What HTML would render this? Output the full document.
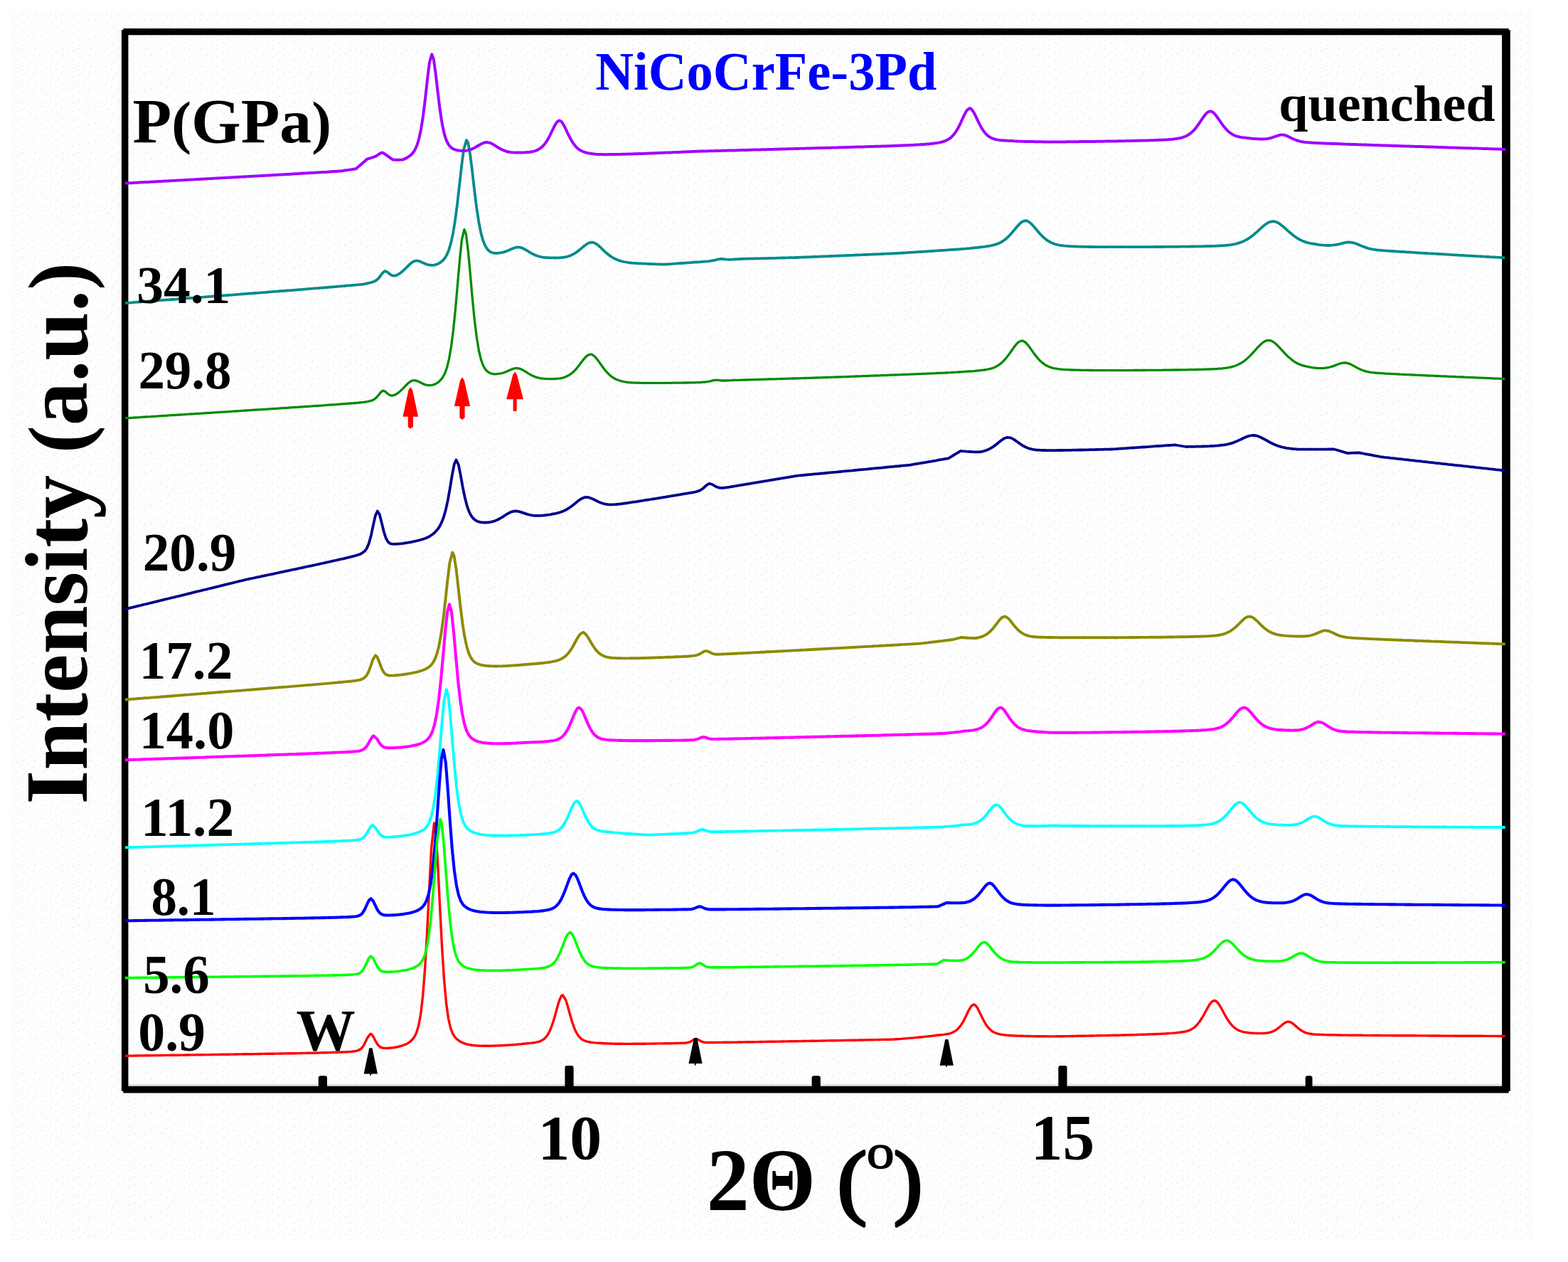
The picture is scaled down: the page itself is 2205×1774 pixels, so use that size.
<!DOCTYPE html>
<html lang="en"><head><meta charset="utf-8"><title>NiCoCrFe-3Pd XRD under pressure</title>
<style>
html,body{margin:0;padding:0;background:#fff;}
body{width:2205px;height:1774px;overflow:hidden;}
svg{display:block;}
text{font-family:"Liberation Serif","DejaVu Serif",serif;font-weight:bold;fill:#000;}
</style></head><body>
<svg width="2205" height="1774" viewBox="0 0 2205 1774">
<rect x="0" y="0" width="2205" height="1774" fill="#ffffff"/>
<defs>
<pattern id="dither" x="15" y="14" width="39" height="24.4" patternUnits="userSpaceOnUse">
<rect width="39" height="24.4" fill="#fefefe"/>
<g fill="#fdeaea"><rect x="1.5" y="12.3" width="2.3" height="2.3"/><rect x="9.1" y="7.3" width="2.3" height="2.3"/><rect x="16.4" y="4.9" width="2.3" height="2.3"/><rect x="23.6" y="9.7" width="2.3" height="2.3"/><rect x="33.2" y="4.9" width="2.3" height="2.3"/><rect x="16.4" y="17.1" width="2.3" height="2.3"/><rect x="9.1" y="19.5" width="2.3" height="2.3"/><rect x="26" y="21.9" width="2.3" height="2.3"/><rect x="31" y="14.6" width="2.3" height="2.3"/></g>
<g fill="#f0fdfd"><rect x="4" y="4.9" width="2.3" height="2.3"/><rect x="11.5" y="2.4" width="2.3" height="2.3"/><rect x="16.4" y="0" width="2.3" height="2.3"/><rect x="23.6" y="2.4" width="2.3" height="2.3"/><rect x="28.6" y="0" width="2.3" height="2.3"/><rect x="36" y="2.4" width="2.3" height="2.3"/><rect x="6.6" y="12.3" width="2.3" height="2.3"/><rect x="14" y="9.7" width="2.3" height="2.3"/><rect x="19" y="14.6" width="2.3" height="2.3"/><rect x="28.6" y="7.3" width="2.3" height="2.3"/><rect x="33.2" y="12.3" width="2.3" height="2.3"/><rect x="36" y="17.1" width="2.3" height="2.3"/><rect x="4" y="19.5" width="2.3" height="2.3"/><rect x="21.4" y="19.5" width="2.3" height="2.3"/><rect x="11.5" y="14.6" width="2.3" height="2.3"/><rect x="31" y="19.5" width="2.3" height="2.3"/></g>
</pattern>
</defs>
<rect x="15" y="14" width="2139" height="1730" fill="url(#dither)"/>
<rect x="180.4" y="1523.8" width="1931.7" height="3.2" fill="#e4e4dc"/>

<g fill="#000">
<rect x="173.4" y="40" width="1948.2" height="9.3"/>
<rect x="173.4" y="1526.8" width="1948.2" height="9.7"/>
<rect x="170.9" y="42.2" width="9.5" height="1491.6"/>
<rect x="2112.1" y="42.2" width="11.7" height="1491.6"/>
</g>
<g fill="none" stroke-linejoin="round" stroke-linecap="butt">
<path d="M175.8,426.0 178.2,425.8 181.2,425.6 184.2,425.4 187.2,425.1 190.2,424.9 193.2,424.7 196.2,424.5 199.2,424.2 202.2,424.0 205.2,423.8 208.2,423.5 211.2,423.3 214.2,423.1 217.2,422.9 220.2,422.6 223.2,422.4 226.2,422.2 229.2,421.9 232.2,421.7 235.2,421.5 238.2,421.3 241.2,421.0 244.2,420.8 247.2,420.6 250.2,420.3 253.2,420.1 256.2,419.9 259.2,419.6 262.2,419.4 265.2,419.2 268.2,419.0 271.2,418.7 274.2,418.5 277.2,418.3 280.2,418.0 283.2,417.8 286.2,417.6 289.2,417.3 292.2,417.1 295.2,416.9 298.2,416.7 301.2,416.4 304.2,416.2 307.2,416.0 310.2,415.7 313.2,415.5 316.2,415.3 319.2,415.0 322.2,414.8 325.2,414.6 328.2,414.4 331.2,414.1 334.2,413.9 337.2,413.7 340.2,413.4 343.2,413.2 346.2,413.0 349.2,412.7 352.2,412.5 355.2,412.3 358.2,412.0 361.2,411.8 364.2,411.6 367.2,411.3 370.2,411.1 373.2,410.9 376.2,410.6 379.2,410.4 382.2,410.2 385.2,409.9 388.2,409.7 391.2,409.5 394.2,409.2 397.2,409.0 400.2,408.8 403.2,408.5 406.2,408.3 409.2,408.1 412.2,407.8 415.2,407.6 418.2,407.3 421.2,407.1 424.2,406.9 427.2,406.6 430.2,406.4 433.2,406.2 436.2,405.9 439.2,405.7 442.2,405.4 445.2,405.2 448.2,405.0 451.2,404.7 454.2,404.5 457.2,404.2 460.2,404.0 463.2,403.7 466.2,403.5 469.2,403.2 472.2,403.0 475.2,402.7 478.2,402.5 481.2,402.2 484.2,402.0 487.2,401.7 490.2,401.4 493.2,401.2 496.2,400.9 499.2,400.6 502.2,400.3 505.2,400.1 508.2,399.8 511.2,399.5 514.2,398.9 517.2,398.2 520.2,397.5 523.2,396.7 526.2,395.7 529.2,394.0 532.2,391.3 535.2,387.5 538.2,383.4 541.2,381.1 544.2,382.0 547.2,384.5 550.2,386.8 553.2,387.7 556.2,387.4 559.2,386.2 562.2,384.4 565.2,382.1 568.2,379.4 571.2,376.5 574.2,373.4 577.2,370.6 580.2,368.3 583.5,366.8 586.2,366.5 589.2,367.0 592.2,368.2 595.2,369.6 598.2,370.9 601.2,372.0 603.5,372.5 607.2,372.8 610.2,372.6 613.2,371.9 616.2,370.7 619.2,369.0 622.2,366.6 625.2,363.3 628.2,358.4 631.2,351.4 634.2,341.3 637.2,327.3 640.2,308.7 643.2,285.7 646.2,259.3 649.2,232.4 652.2,209.7 656.0,197.0 658.2,200.8 661.2,217.4 664.2,241.7 667.2,267.8 670.2,291.8 673.2,311.6 676.2,326.9 679.2,337.9 682.2,345.3 685.2,350.1 688.2,353.1 691.2,354.8 694.2,355.7 697.2,356.0 700.2,355.8 703.2,355.3 706.2,354.9 709.2,354.2 712.2,353.1 715.2,351.9 718.2,350.5 721.2,349.2 724.2,348.2 727.2,347.5 729.6,347.5 733.2,348.2 736.2,349.5 739.2,351.1 742.2,352.9 745.2,354.8 748.2,356.5 751.2,358.0 754.2,359.3 757.2,360.3 760.2,361.0 763.2,361.6 766.2,362.0 769.2,362.2 772.2,362.4 775.2,362.4 778.0,362.4 781.2,362.5 784.2,362.4 787.2,362.3 790.2,362.0 793.2,361.6 796.2,361.1 799.2,360.2 802.2,359.2 805.2,357.8 808.2,356.1 811.2,354.1 814.2,351.9 817.2,349.4 820.2,346.9 823.2,344.5 826.2,342.5 829.2,341.1 832.7,340.6 835.2,341.1 838.2,342.6 841.2,344.8 844.2,347.5 847.2,350.4 850.2,353.3 853.2,356.0 856.2,358.4 859.2,360.6 862.2,362.5 865.2,364.0 868.2,365.3 871.2,366.4 874.2,367.3 877.2,368.0 880.2,368.5 883.2,369.0 885.0,369.3 886.2,369.4 889.2,369.7 892.2,369.9 895.2,370.1 898.2,370.3 901.2,370.4 904.2,370.6 907.2,370.7 910.2,370.9 913.2,371.0 916.2,371.1 919.2,371.2 922.2,371.3 925.2,371.4 928.2,371.5 931.2,371.6 933.6,371.7 937.2,371.5 940.2,371.3 943.2,371.1 946.2,370.9 949.2,370.7 952.2,370.4 955.2,370.2 958.2,370.0 961.2,369.8 964.2,369.6 967.2,369.4 970.2,369.2 973.2,368.9 976.2,368.7 979.2,368.5 982.2,368.3 985.2,368.1 988.2,367.8 991.2,367.6 994.2,367.4 997.2,367.1 1000.2,366.7 1003.2,366.2 1006.2,365.5 1009.2,364.7 1013.0,364.0 1015.2,364.0 1018.2,364.3 1021.2,364.6 1024.2,364.8 1027.2,364.8 1030.2,364.7 1033.2,364.5 1036.2,364.3 1039.2,364.1 1042.2,364.0 1045.2,363.9 1048.2,363.8 1051.2,363.7 1054.2,363.7 1057.2,363.6 1060.2,363.5 1063.2,363.4 1066.2,363.4 1069.2,363.3 1072.2,363.2 1075.2,363.1 1078.2,363.1 1081.2,363.0 1084.2,362.9 1087.2,362.8 1090.2,362.8 1093.2,362.7 1096.2,362.6 1099.2,362.5 1102.2,362.5 1105.2,362.4 1108.2,362.3 1111.2,362.2 1114.2,362.2 1117.2,362.1 1120.0,362.0 1123.2,361.9 1126.2,361.7 1129.2,361.6 1132.2,361.5 1135.2,361.4 1138.2,361.3 1141.2,361.1 1144.2,361.0 1147.2,360.9 1150.2,360.8 1153.2,360.6 1156.2,360.5 1159.2,360.4 1162.2,360.3 1165.2,360.1 1168.2,360.0 1171.2,359.9 1174.2,359.8 1177.2,359.6 1180.2,359.5 1183.2,359.4 1186.2,359.3 1189.2,359.1 1192.2,359.0 1195.2,358.9 1198.2,358.8 1201.2,358.6 1204.2,358.5 1207.2,358.4 1210.2,358.3 1213.2,358.1 1216.2,358.0 1219.2,357.9 1222.2,357.8 1225.2,357.6 1228.2,357.5 1231.2,357.4 1234.2,357.3 1237.2,357.1 1240.2,357.0 1243.2,356.9 1246.2,356.7 1249.2,356.6 1252.2,356.5 1255.2,356.4 1258.2,356.2 1261.2,356.0 1264.2,355.9 1267.2,355.7 1270.2,355.5 1273.2,355.3 1276.2,355.1 1279.2,354.9 1282.2,354.7 1285.2,354.6 1288.2,354.4 1291.2,354.2 1294.2,354.0 1297.2,353.8 1300.2,353.6 1303.2,353.4 1306.2,353.2 1309.2,353.0 1312.2,352.8 1315.2,352.6 1318.2,352.4 1321.2,352.2 1324.2,352.0 1327.2,351.8 1330.2,351.6 1333.2,351.4 1336.2,351.2 1339.2,351.0 1342.2,350.8 1345.2,350.5 1348.2,350.3 1351.2,350.1 1354.2,349.8 1357.2,349.6 1360.2,349.3 1363.2,349.1 1366.2,348.8 1369.2,348.5 1372.2,348.2 1375.2,347.9 1378.2,347.5 1381.2,347.2 1384.2,346.8 1387.2,346.3 1390.0,345.8 1393.2,345.3 1396.2,344.7 1399.2,343.9 1402.2,342.9 1405.2,341.7 1408.2,340.2 1411.2,338.3 1414.2,336.0 1417.2,333.3 1420.2,330.3 1423.2,327.0 1426.2,323.4 1429.2,319.8 1432.2,316.4 1435.2,313.4 1438.2,311.3 1442.0,310.2 1444.2,310.5 1447.2,312.1 1450.2,314.6 1453.2,317.8 1456.2,321.3 1459.2,324.9 1462.2,328.3 1465.2,331.5 1468.2,334.3 1471.2,336.8 1474.2,338.8 1477.2,340.5 1480.2,341.9 1483.2,343.0 1486.2,343.8 1489.2,344.5 1492.2,345.0 1495.2,345.4 1498.2,345.7 1499.6,345.8 1501.2,345.9 1504.2,346.1 1507.2,346.3 1510.2,346.4 1513.2,346.5 1516.2,346.6 1519.2,346.7 1522.2,346.8 1525.2,346.9 1528.2,346.9 1531.2,347.0 1534.2,347.0 1537.2,347.0 1540.2,347.1 1543.2,347.1 1546.2,347.1 1549.2,347.1 1552.2,347.2 1555.2,347.2 1558.2,347.2 1561.2,347.2 1564.2,347.2 1567.2,347.2 1570.2,347.2 1573.2,347.2 1576.2,347.2 1579.2,347.2 1582.2,347.2 1585.2,347.2 1588.2,347.2 1591.2,347.2 1594.2,347.2 1597.2,347.2 1600.2,347.2 1603.2,347.1 1606.2,347.1 1609.2,347.1 1612.2,347.1 1615.2,347.1 1618.2,347.1 1621.2,347.1 1624.2,347.0 1627.2,347.0 1630.2,347.0 1633.2,347.0 1636.2,347.0 1639.2,346.9 1642.2,346.9 1645.2,346.9 1648.2,346.8 1651.2,346.8 1654.2,346.8 1657.2,346.8 1660.2,346.7 1663.2,346.7 1666.2,346.6 1669.2,346.6 1672.2,346.6 1675.2,346.5 1678.2,346.5 1681.2,346.4 1684.2,346.4 1687.2,346.3 1690.2,346.3 1693.2,346.2 1696.2,346.1 1699.2,346.0 1702.2,346.0 1705.2,345.9 1707.0,345.8 1708.2,345.8 1711.2,345.6 1714.2,345.5 1717.2,345.3 1720.2,345.1 1723.2,344.9 1726.2,344.6 1729.2,344.3 1732.2,343.9 1735.2,343.3 1738.2,342.7 1741.2,341.9 1744.2,340.9 1747.2,339.8 1750.2,338.4 1753.2,336.8 1756.2,334.9 1759.2,332.9 1762.2,330.5 1765.2,328.0 1768.2,325.4 1771.2,322.6 1774.2,319.9 1777.2,317.3 1780.2,315.0 1783.2,313.1 1786.2,311.8 1790.0,311.2 1792.2,311.4 1795.2,312.3 1798.2,313.8 1801.2,315.9 1804.2,318.3 1807.2,320.9 1810.2,323.6 1813.2,326.3 1816.2,328.8 1819.2,331.2 1822.2,333.4 1825.2,335.3 1828.2,337.0 1831.2,338.4 1834.2,339.6 1837.2,340.6 1840.2,341.5 1843.2,342.1 1846.2,342.6 1848.8,343.0 1852.2,343.6 1855.2,344.1 1858.2,344.4 1861.2,344.7 1864.2,344.9 1867.2,345.0 1870.2,344.9 1873.2,344.7 1876.2,344.4 1879.2,343.9 1882.2,343.3 1885.2,342.6 1888.2,341.8 1891.2,341.2 1894.2,340.7 1897.2,340.5 1899.0,340.6 1903.2,341.3 1906.2,342.3 1909.2,343.4 1912.2,344.7 1915.2,345.9 1918.2,347.1 1921.2,348.1 1924.2,349.1 1927.2,349.8 1930.2,350.4 1933.2,350.9 1936.2,351.3 1939.2,351.6 1942.2,351.9 1945.2,352.2 1948.2,352.4 1951.2,352.6 1954.2,352.8 1957.2,353.0 1960.2,353.2 1963.2,353.4 1966.2,353.6 1969.2,353.8 1972.2,354.0 1975.2,354.2 1978.2,354.4 1981.2,354.5 1984.2,354.7 1987.2,354.9 1990.2,355.1 1993.2,355.3 1996.2,355.5 1999.2,355.6 2002.2,355.8 2005.2,356.0 2008.2,356.2 2011.2,356.3 2014.2,356.5 2017.2,356.7 2020.2,356.9 2023.2,357.0 2026.2,357.2 2029.2,357.4 2032.2,357.6 2035.2,357.7 2038.2,357.9 2041.2,358.1 2044.2,358.3 2047.2,358.4 2050.2,358.6 2053.2,358.8 2056.2,358.9 2059.2,359.1 2062.2,359.3 2065.2,359.5 2068.2,359.6 2071.2,359.8 2074.2,360.0 2077.2,360.1 2080.2,360.3 2083.2,360.5 2086.2,360.7 2089.2,360.8 2092.2,361.0 2095.2,361.2 2098.2,361.3 2101.2,361.5 2104.2,361.7 2107.2,361.9 2110.2,362.0 2113.2,362.2 2116.2,362.4" stroke="#008b8b" stroke-width="3.8"/>
<path d="M175.8,587.9 178.4,587.7 181.4,587.6 184.4,587.4 187.4,587.2 190.4,587.0 193.4,586.8 196.4,586.6 199.4,586.4 202.4,586.2 205.4,586.0 208.4,585.8 211.4,585.7 214.4,585.5 217.4,585.3 220.4,585.1 223.4,584.9 226.4,584.7 229.4,584.5 232.4,584.3 235.4,584.1 238.4,583.9 241.4,583.7 244.4,583.6 247.4,583.4 250.4,583.2 253.4,583.0 256.4,582.8 259.4,582.6 262.4,582.4 265.4,582.2 268.4,582.0 271.4,581.8 274.4,581.6 277.4,581.4 280.4,581.3 283.4,581.1 286.4,580.9 289.4,580.7 292.4,580.5 295.4,580.3 298.4,580.1 301.4,579.9 304.4,579.7 307.4,579.5 310.4,579.3 313.4,579.1 316.4,579.0 319.4,578.8 322.4,578.6 325.4,578.4 328.4,578.2 331.4,578.0 334.4,577.8 337.4,577.6 340.4,577.4 343.4,577.2 346.4,577.0 349.4,576.8 352.4,576.6 355.4,576.4 358.4,576.2 361.4,576.0 364.4,575.9 367.4,575.7 370.4,575.5 373.4,575.3 376.4,575.1 379.4,574.9 382.4,574.7 385.4,574.5 388.4,574.3 391.4,574.1 394.4,573.9 397.4,573.7 400.4,573.5 403.4,573.3 406.4,573.1 409.4,572.9 412.4,572.7 415.4,572.5 418.4,572.3 421.4,572.1 424.4,571.9 427.4,571.7 430.4,571.5 433.4,571.3 436.4,571.1 439.4,570.9 442.4,570.7 445.4,570.5 448.4,570.3 451.4,570.1 454.4,569.9 457.4,569.6 460.4,569.4 463.4,569.2 466.4,569.0 469.4,568.8 472.4,568.6 475.4,568.4 478.4,568.1 481.4,567.9 484.4,567.7 487.4,567.5 490.4,567.2 493.4,567.0 496.4,566.8 499.4,566.5 502.4,566.3 505.4,566.0 508.4,565.7 511.4,565.4 514.4,565.0 517.4,564.4 520.4,563.7 523.4,562.8 526.4,561.3 529.4,558.8 532.4,555.2 535.4,551.3 538.4,549.2 541.4,550.1 544.4,552.8 547.4,555.0 550.4,556.1 552.5,556.0 556.4,554.5 559.4,552.6 562.4,550.2 565.4,547.4 568.4,544.3 571.4,541.2 574.4,538.3 577.4,536.1 580.3,534.8 583.4,534.6 586.4,535.4 589.4,536.7 592.4,538.3 595.4,539.7 598.4,540.9 600.5,541.4 604.4,541.7 607.4,541.4 610.4,540.6 613.4,539.2 616.4,537.3 619.4,534.6 622.4,530.8 625.4,525.3 628.4,517.1 631.4,505.1 634.4,487.9 637.4,464.6 640.4,435.2 643.4,401.1 646.4,366.1 649.4,337.1 652.9,322.6 655.4,329.4 658.4,353.4 661.4,386.3 664.4,420.3 667.4,450.4 670.4,474.7 673.4,492.8 676.4,505.4 679.4,513.7 682.4,519.0 685.4,522.2 688.4,524.2 691.4,525.2 694.4,525.8 697.4,525.8 700.4,525.4 703.4,525.1 706.4,524.5 709.4,523.5 712.4,522.3 715.4,521.0 718.4,519.6 721.4,518.5 724.4,517.7 727.5,517.6 730.4,518.1 733.4,519.3 736.4,520.9 739.4,522.7 742.4,524.6 745.4,526.4 748.4,528.0 751.4,529.3 754.4,530.4 757.4,531.2 760.4,531.8 763.4,532.2 766.4,532.4 769.4,532.6 772.4,532.6 775.4,532.6 778.4,532.6 781.4,532.5 784.4,532.2 787.4,531.8 790.4,531.3 793.4,530.5 796.4,529.3 799.4,527.8 802.4,525.9 805.4,523.5 808.4,520.6 811.4,517.3 814.4,513.5 817.4,509.5 820.4,505.6 823.4,502.1 826.4,499.4 830.6,498.0 832.4,498.4 835.4,500.3 838.4,503.4 841.4,507.3 844.4,511.5 847.4,515.7 850.4,519.7 853.4,523.2 856.4,526.3 859.4,528.9 862.4,531.0 865.4,532.7 868.4,534.0 871.4,535.0 874.4,535.9 877.4,536.5 880.4,537.1 883.4,537.5 885.0,537.7 886.4,537.8 889.4,537.9 892.4,538.1 895.4,538.2 898.4,538.2 901.4,538.3 904.4,538.3 907.4,538.4 910.4,538.4 913.4,538.4 916.4,538.4 919.4,538.4 922.4,538.4 925.4,538.4 928.4,538.4 931.4,538.4 934.4,538.4 937.4,538.3 940.4,538.3 943.4,538.3 946.4,538.2 949.4,538.2 952.4,538.2 955.4,538.1 958.4,538.1 961.4,538.0 964.4,538.0 967.4,538.0 970.4,537.9 973.4,537.9 976.4,537.8 979.4,537.7 982.0,537.7 985.4,537.5 988.4,537.2 991.4,537.0 994.4,536.6 997.4,536.1 1000.4,535.4 1003.4,534.7 1006.0,534.3 1009.4,534.4 1012.4,534.7 1015.4,535.0 1018.4,535.0 1021.4,535.0 1024.4,534.8 1027.4,534.7 1030.0,534.5 1033.4,534.4 1036.4,534.3 1039.4,534.3 1042.4,534.2 1045.4,534.1 1048.4,534.0 1051.4,533.9 1054.4,533.8 1057.4,533.7 1060.4,533.7 1063.4,533.6 1066.4,533.5 1069.4,533.4 1072.4,533.3 1075.4,533.2 1078.4,533.1 1081.4,533.0 1084.4,532.9 1087.4,532.9 1090.4,532.8 1093.4,532.7 1096.4,532.6 1099.4,532.5 1102.4,532.4 1105.4,532.3 1108.4,532.2 1111.4,532.1 1114.4,532.0 1117.4,532.0 1120.4,531.9 1123.4,531.8 1126.4,531.7 1129.4,531.6 1132.4,531.5 1135.4,531.4 1138.4,531.3 1141.4,531.2 1144.4,531.1 1147.4,531.0 1150.4,530.9 1153.4,530.8 1155.0,530.8 1156.4,530.7 1159.4,530.6 1162.4,530.5 1165.4,530.4 1168.4,530.3 1171.4,530.2 1174.4,530.1 1177.4,530.0 1180.4,529.9 1183.4,529.8 1186.4,529.7 1189.4,529.6 1192.4,529.5 1195.4,529.3 1198.4,529.2 1201.4,529.1 1204.4,529.0 1207.4,528.9 1210.4,528.8 1213.4,528.7 1216.4,528.6 1219.4,528.5 1222.4,528.4 1225.4,528.2 1228.4,528.1 1231.4,528.0 1234.4,527.9 1237.4,527.8 1240.4,527.7 1243.4,527.6 1246.4,527.5 1249.4,527.3 1252.4,527.2 1255.4,527.1 1258.4,527.0 1261.4,526.9 1264.4,526.8 1267.4,526.6 1270.4,526.5 1273.4,526.4 1276.4,526.3 1279.4,526.2 1282.4,526.1 1285.4,525.9 1288.4,525.8 1291.4,525.7 1294.4,525.6 1297.4,525.4 1300.4,525.3 1303.4,525.2 1306.4,525.1 1309.4,524.9 1312.4,524.8 1315.4,524.7 1318.4,524.5 1321.4,524.4 1324.4,524.3 1327.4,524.1 1330.4,524.0 1333.4,523.8 1336.4,523.7 1339.4,523.5 1342.4,523.3 1345.4,523.2 1348.4,523.0 1351.4,522.8 1354.4,522.6 1357.4,522.4 1360.4,522.2 1363.4,522.0 1366.4,521.8 1369.4,521.6 1372.4,521.3 1375.4,521.0 1378.4,520.7 1379.7,520.5 1381.4,520.3 1384.4,520.0 1387.4,519.5 1390.4,518.9 1393.4,518.2 1396.4,517.2 1399.4,516.0 1402.4,514.4 1405.4,512.5 1408.4,510.1 1411.4,507.2 1414.4,503.9 1417.4,500.1 1420.4,496.0 1423.4,491.7 1426.4,487.4 1429.4,483.7 1432.4,480.8 1436.8,479.0 1438.4,479.2 1441.4,480.8 1444.4,483.7 1447.4,487.5 1450.4,491.6 1453.4,495.9 1456.4,499.9 1459.4,503.6 1462.4,506.9 1465.4,509.6 1468.4,511.9 1471.4,513.8 1474.4,515.3 1477.4,516.4 1480.4,517.3 1483.4,517.9 1486.4,518.4 1489.4,518.8 1492.4,519.1 1495.4,519.4 1498.4,519.6 1501.4,519.7 1504.4,519.9 1507.4,520.0 1510.4,520.1 1513.4,520.2 1516.4,520.2 1519.4,520.3 1522.4,520.4 1525.4,520.4 1528.4,520.4 1531.4,520.5 1534.4,520.5 1537.4,520.5 1540.4,520.6 1543.4,520.6 1546.4,520.6 1549.4,520.6 1552.4,520.6 1555.4,520.6 1558.4,520.6 1561.4,520.6 1564.4,520.6 1567.4,520.6 1570.4,520.6 1573.4,520.6 1576.4,520.6 1579.4,520.6 1582.4,520.6 1585.4,520.6 1588.4,520.6 1591.4,520.6 1594.4,520.5 1597.4,520.5 1600.4,520.5 1603.4,520.5 1606.4,520.5 1609.4,520.5 1612.4,520.4 1615.4,520.4 1618.4,520.4 1621.4,520.4 1624.4,520.3 1627.4,520.3 1630.4,520.3 1633.4,520.3 1636.4,520.2 1639.4,520.2 1642.4,520.2 1645.4,520.1 1648.4,520.1 1651.4,520.0 1654.4,520.0 1657.4,520.0 1660.4,519.9 1663.4,519.9 1666.4,519.8 1669.4,519.8 1672.4,519.7 1675.4,519.7 1678.4,519.6 1681.4,519.5 1684.4,519.5 1687.4,519.4 1690.4,519.3 1693.4,519.2 1696.4,519.1 1699.4,519.0 1702.4,518.9 1705.4,518.8 1707.0,518.7 1708.4,518.6 1711.4,518.5 1714.4,518.2 1717.4,518.0 1720.4,517.7 1723.4,517.3 1726.4,516.9 1729.4,516.3 1732.4,515.6 1735.4,514.8 1738.4,513.7 1741.4,512.4 1744.4,510.8 1747.4,509.0 1750.4,506.8 1753.4,504.4 1756.4,501.6 1759.4,498.6 1762.4,495.4 1765.4,492.1 1768.4,488.7 1771.4,485.6 1774.4,482.8 1777.4,480.5 1780.4,478.9 1783.8,478.3 1786.4,478.6 1789.4,479.9 1792.4,481.9 1795.4,484.6 1798.4,487.6 1801.4,490.9 1804.4,494.1 1807.4,497.3 1810.4,500.4 1813.4,503.1 1816.4,505.6 1819.4,507.8 1822.4,509.7 1825.4,511.2 1828.4,512.5 1831.4,513.6 1834.4,514.4 1837.4,515.1 1840.4,515.7 1843.4,516.3 1846.4,516.8 1849.4,517.2 1852.4,517.5 1855.4,517.6 1858.4,517.6 1861.4,517.5 1864.4,517.2 1867.4,516.7 1870.4,516.0 1873.4,515.1 1876.4,514.1 1879.4,512.9 1882.4,511.8 1885.4,510.8 1888.4,510.1 1892.0,510.0 1894.4,510.4 1897.4,511.3 1900.4,512.6 1903.4,514.2 1906.4,515.9 1909.4,517.5 1912.4,518.9 1915.4,520.2 1918.4,521.3 1921.4,522.2 1924.4,522.8 1927.4,523.3 1930.4,523.7 1933.4,524.0 1936.4,524.3 1939.4,524.5 1942.4,524.7 1945.4,524.9 1948.4,525.1 1951.4,525.3 1954.4,525.4 1957.4,525.6 1960.4,525.7 1963.4,525.9 1966.4,526.0 1969.4,526.2 1972.4,526.3 1975.4,526.5 1978.4,526.6 1981.4,526.7 1984.4,526.9 1987.4,527.0 1990.4,527.2 1993.4,527.3 1996.4,527.4 1999.4,527.6 2002.4,527.7 2005.4,527.8 2008.4,528.0 2011.4,528.1 2014.4,528.2 2017.4,528.4 2020.4,528.5 2023.4,528.6 2026.4,528.8 2029.4,528.9 2032.4,529.0 2035.4,529.1 2038.4,529.3 2041.4,529.4 2044.4,529.5 2047.4,529.7 2050.4,529.8 2053.4,529.9 2056.4,530.0 2059.4,530.2 2062.4,530.3 2065.4,530.4 2068.4,530.6 2071.4,530.7 2074.4,530.8 2077.4,530.9 2080.4,531.1 2083.4,531.2 2086.4,531.3 2089.4,531.4 2092.4,531.6 2095.4,531.7 2098.4,531.8 2101.4,532.0 2104.4,532.1 2107.4,532.2 2110.4,532.3 2113.4,532.5 2116.4,532.6" stroke="#008b00" stroke-width="3.3"/>
<path d="M175.8,856.3 179.8,855.4 182.8,854.6 185.8,853.9 188.8,853.2 191.8,852.4 194.8,851.7 197.8,851.0 200.8,850.2 203.8,849.5 206.8,848.8 209.8,848.0 212.8,847.3 215.8,846.6 218.8,845.9 221.8,845.1 224.8,844.4 227.8,843.7 230.8,842.9 233.8,842.2 236.8,841.5 239.8,840.7 242.8,840.0 245.8,839.3 248.8,838.5 251.8,837.8 254.8,837.1 257.8,836.3 260.8,835.6 263.8,834.9 266.8,834.1 269.8,833.4 272.8,832.7 275.8,831.9 278.8,831.2 281.8,830.5 284.8,829.7 287.8,829.0 290.8,828.3 293.8,827.5 296.8,826.8 299.8,826.1 302.8,825.3 305.8,824.6 308.8,823.9 311.8,823.1 314.8,822.4 317.8,821.7 320.8,820.9 323.8,820.2 326.8,819.5 329.8,818.7 332.8,818.0 335.8,817.2 338.8,816.5 341.8,815.8 344.8,815.0 347.8,814.4 350.8,813.7 353.8,813.1 356.8,812.5 359.8,811.8 362.8,811.2 365.8,810.6 368.8,809.9 371.8,809.3 374.8,808.7 377.8,808.0 380.8,807.4 383.8,806.8 386.8,806.1 389.8,805.5 392.8,804.9 395.8,804.2 398.8,803.6 401.8,802.9 404.8,802.3 407.8,801.7 410.8,801.0 413.8,800.4 416.8,799.8 419.8,799.1 422.8,798.5 425.8,797.8 428.8,797.2 431.8,796.5 434.8,795.9 437.8,795.3 440.8,794.6 443.8,794.0 446.8,793.3 449.8,792.7 452.8,792.0 455.8,791.4 458.8,790.7 461.8,790.0 464.8,789.4 467.8,788.7 470.8,788.0 473.8,787.4 476.8,786.7 479.8,786.0 482.8,785.3 485.8,784.6 488.8,783.9 491.8,783.1 494.8,782.4 497.8,781.6 500.8,780.8 503.8,779.9 506.8,778.7 509.8,777.1 512.8,774.8 515.8,770.8 518.8,763.8 521.8,752.8 524.8,738.7 527.8,725.1 530.8,718.6 533.8,723.3 536.8,735.1 539.8,747.5 542.8,756.7 545.8,761.9 548.8,764.1 551.5,764.6 554.8,764.9 557.8,764.7 560.8,764.5 563.8,764.2 566.8,763.8 569.8,763.3 572.8,762.9 575.8,762.3 578.8,761.8 581.8,761.2 584.8,760.5 587.8,759.8 590.8,759.0 593.8,758.1 596.8,757.2 599.8,756.1 601.7,755.3 605.8,752.8 608.8,750.7 611.8,748.1 614.8,744.8 617.8,740.6 620.8,734.9 623.8,727.2 626.8,716.8 629.8,703.1 632.8,686.3 635.8,667.9 638.8,652.5 641.5,646.6 644.8,653.3 647.8,668.3 650.8,685.1 653.8,699.8 656.8,711.3 659.8,719.6 662.8,725.3 665.8,729.1 668.8,731.5 671.8,733.0 674.8,733.9 677.8,734.4 680.8,734.5 683.8,734.5 686.8,734.3 689.8,733.9 692.8,733.2 695.8,732.2 698.8,731.0 701.8,729.5 704.8,727.8 707.8,726.0 710.8,724.0 713.8,722.2 716.8,720.6 719.8,719.3 722.7,718.6 725.8,718.4 728.8,718.8 731.8,719.6 734.8,720.6 737.8,721.6 740.8,722.6 743.8,723.5 746.8,724.2 749.8,724.6 752.8,724.9 755.8,724.9 757.3,724.9 758.8,724.9 761.8,724.7 764.8,724.5 767.8,724.1 770.8,723.7 773.8,723.3 776.8,722.7 779.8,722.2 782.8,721.5 785.8,720.7 788.8,719.7 791.8,718.6 794.8,717.2 797.8,715.6 800.8,713.7 803.8,711.5 806.8,709.2 809.8,706.7 812.8,704.3 815.8,702.1 818.8,700.4 823.0,699.0 824.8,698.9 827.8,699.2 830.8,700.2 833.8,701.5 836.8,703.0 839.8,704.5 842.8,705.9 845.8,707.1 848.8,708.0 851.8,708.7 854.8,709.1 857.6,709.3 860.8,709.3 863.8,709.2 866.8,709.0 869.8,708.6 872.8,708.3 875.8,707.9 878.8,707.5 881.8,707.1 884.8,706.6 887.8,706.2 890.8,705.7 893.8,705.3 896.8,704.8 899.8,704.3 902.8,703.9 905.8,703.4 908.8,702.9 911.8,702.5 914.8,702.0 917.8,701.5 920.8,701.1 923.8,700.6 926.8,700.1 929.8,699.6 932.8,699.1 935.8,698.7 938.8,698.2 941.8,697.7 944.8,697.2 947.8,696.7 950.8,696.2 953.8,695.7 956.8,695.2 959.8,694.7 962.8,694.2 965.8,693.7 968.8,693.2 971.8,692.7 974.8,692.1 977.8,691.5 980.8,690.7 983.8,689.6 986.8,687.9 989.8,685.5 992.8,682.7 995.8,680.5 997.6,679.9 1001.8,681.0 1004.8,682.9 1007.8,684.5 1010.8,685.5 1013.8,685.8 1016.6,685.8 1019.8,685.5 1022.8,685.0 1025.8,684.6 1028.8,684.1 1031.8,683.6 1034.8,683.2 1037.8,682.7 1040.8,682.2 1043.8,681.7 1046.8,681.2 1049.8,680.7 1052.8,680.2 1055.8,679.7 1058.8,679.2 1061.8,678.7 1064.8,678.2 1067.8,677.7 1070.8,677.2 1073.8,676.7 1076.8,676.2 1079.8,675.7 1082.8,675.1 1085.8,674.6 1088.8,674.1 1091.8,673.6 1094.8,673.1 1097.8,672.6 1100.8,672.1 1103.8,671.6 1106.8,671.1 1109.8,670.6 1112.8,670.1 1115.8,669.6 1118.8,669.1 1120.4,668.8 1121.8,668.7 1124.8,668.4 1127.8,668.1 1130.8,667.8 1133.8,667.5 1136.8,667.2 1139.8,667.0 1142.8,666.7 1145.8,666.4 1148.8,666.1 1151.8,665.8 1154.8,665.5 1157.8,665.3 1160.8,665.0 1163.8,664.7 1166.8,664.4 1169.8,664.1 1172.8,663.8 1175.8,663.6 1178.8,663.3 1181.8,663.0 1184.8,662.7 1187.8,662.4 1190.8,662.1 1193.8,661.8 1196.8,661.6 1199.8,661.3 1202.8,661.0 1205.8,660.7 1208.8,660.4 1211.8,660.1 1214.8,659.8 1217.8,659.6 1220.8,659.3 1223.8,659.0 1226.8,658.7 1229.8,658.4 1232.8,658.1 1235.8,657.8 1238.8,657.6 1241.8,657.3 1244.8,657.0 1247.8,656.7 1250.8,656.4 1253.8,656.1 1256.8,655.8 1259.8,655.5 1262.8,655.3 1265.8,655.0 1268.8,654.7 1271.8,654.4 1274.8,654.1 1277.8,653.8 1280.0,653.6 1283.8,652.9 1286.8,652.4 1289.8,651.9 1292.8,651.4 1295.8,650.9 1298.8,650.4 1301.8,649.9 1304.8,649.3 1307.8,648.8 1310.8,648.3 1313.8,647.8 1316.8,647.3 1319.8,646.7 1322.8,646.2 1325.8,645.7 1328.8,645.1 1331.8,644.6 1333.6,644.3 1334.8,643.6 1337.8,641.8 1340.8,640.0 1343.8,638.2 1346.8,636.4 1349.8,634.6 1351.0,633.9 1352.8,634.1 1355.8,634.3 1358.8,634.6 1361.8,634.8 1364.8,635.0 1367.8,635.2 1370.8,635.3 1373.8,635.4 1376.8,635.4 1379.8,635.0 1382.8,634.3 1385.8,633.4 1388.8,632.3 1391.8,630.9 1394.8,629.1 1397.8,627.1 1400.8,624.9 1403.8,622.5 1406.8,620.1 1409.8,617.8 1412.8,616.0 1415.8,615.0 1417.4,614.8 1421.8,615.6 1424.8,617.1 1427.8,619.1 1430.8,621.3 1433.8,623.4 1436.8,625.5 1439.8,627.3 1442.8,628.8 1445.8,630.0 1448.8,630.9 1451.8,631.6 1454.8,632.1 1457.8,632.5 1460.8,632.7 1463.8,632.9 1466.8,633.0 1469.8,633.0 1472.8,633.1 1475.8,633.1 1478.8,633.1 1481.8,633.1 1484.8,633.1 1487.8,633.0 1490.8,633.0 1493.8,633.0 1496.8,632.9 1499.8,632.9 1502.8,632.8 1505.8,632.8 1508.8,632.7 1511.8,632.7 1514.8,632.6 1517.8,632.5 1520.8,632.5 1523.8,632.4 1526.8,632.4 1529.8,632.3 1532.8,632.2 1535.8,632.2 1538.8,632.1 1541.8,632.0 1544.8,631.9 1547.8,631.9 1550.8,631.8 1553.8,631.7 1556.8,631.7 1559.8,631.6 1562.8,631.5 1565.8,631.4 1568.8,631.2 1571.8,631.0 1574.8,630.7 1577.8,630.5 1580.8,630.3 1583.8,630.1 1586.8,629.9 1589.8,629.7 1592.8,629.5 1595.5,629.3 1598.8,629.1 1601.8,628.9 1604.8,628.7 1607.8,628.5 1610.8,628.3 1613.8,628.1 1616.8,627.9 1619.8,627.6 1622.8,627.4 1625.8,627.2 1628.8,627.0 1631.8,626.8 1634.8,626.6 1637.8,626.4 1640.8,626.2 1643.8,626.0 1646.8,625.8 1649.8,625.6 1652.2,625.4 1655.8,626.0 1658.8,626.5 1661.8,627.0 1664.8,627.5 1667.8,628.0 1670.8,627.9 1673.8,627.9 1676.8,627.8 1679.8,627.8 1682.8,627.7 1685.8,627.6 1688.8,627.6 1691.8,627.5 1694.8,627.4 1697.8,627.3 1700.8,627.2 1703.8,627.0 1706.8,626.9 1709.8,626.6 1712.8,626.4 1715.8,626.0 1718.8,625.7 1721.8,625.4 1724.8,624.8 1727.8,624.2 1730.8,623.4 1733.8,622.4 1736.8,621.2 1739.8,620.0 1742.8,618.6 1745.8,617.2 1748.8,615.7 1751.8,614.4 1754.8,613.3 1757.8,612.5 1760.8,612.0 1763.0,612.0 1766.8,612.5 1769.8,613.4 1772.8,614.7 1775.8,616.2 1778.8,617.8 1781.8,619.5 1784.8,621.2 1787.8,622.7 1790.8,624.2 1793.8,625.5 1796.8,626.7 1799.8,627.6 1802.8,628.5 1805.8,629.2 1808.8,629.8 1811.8,630.2 1814.8,630.6 1817.8,631.0 1820.8,631.2 1823.8,631.5 1826.8,631.6 1829.8,631.6 1832.8,631.6 1835.8,631.6 1838.8,631.6 1841.8,631.6 1844.8,631.6 1847.8,631.6 1850.8,631.6 1853.8,631.6 1856.8,631.6 1859.8,631.6 1862.8,631.6 1865.8,631.6 1868.8,631.5 1871.8,631.5 1874.8,631.5 1876.2,631.5 1877.8,632.0 1880.8,632.8 1883.8,633.7 1886.8,634.6 1889.8,635.5 1892.8,636.4 1895.0,637.0 1898.8,636.9 1901.8,636.7 1904.8,636.6 1907.8,636.5 1910.8,636.4 1913.8,636.9 1916.8,637.5 1919.8,638.1 1922.8,638.6 1925.8,639.2 1928.8,639.7 1931.8,640.3 1934.8,640.9 1937.8,641.4 1940.8,642.0 1942.5,642.3 1943.8,642.4 1946.8,642.8 1949.8,643.1 1952.8,643.4 1955.8,643.8 1958.8,644.1 1961.8,644.4 1964.8,644.8 1967.8,645.1 1970.8,645.4 1973.8,645.8 1976.8,646.1 1979.8,646.4 1982.8,646.8 1985.8,647.1 1988.8,647.4 1991.8,647.8 1994.8,648.1 1997.8,648.4 2000.8,648.8 2003.8,649.1 2006.8,649.4 2009.8,649.8 2012.8,650.1 2015.8,650.4 2018.8,650.8 2021.8,651.1 2024.8,651.4 2027.8,651.8 2030.8,652.1 2033.8,652.4 2036.8,652.8 2039.8,653.1 2042.8,653.4 2045.8,653.8 2048.8,654.1 2051.8,654.4 2054.8,654.7 2057.8,655.1 2060.8,655.4 2063.8,655.7 2066.8,656.1 2069.8,656.4 2072.8,656.7 2075.8,657.1 2078.8,657.4 2081.8,657.7 2084.8,658.1 2087.8,658.4 2090.8,658.7 2093.8,659.1 2096.8,659.4 2099.8,659.7 2102.8,660.1 2105.8,660.4 2108.8,660.7 2111.8,661.0 2114.8,661.4 2116.8,661.6" stroke="#00008b" stroke-width="3.8"/>
<path d="M175.8,983.5 179.4,983.2 182.4,983.0 185.4,982.8 188.4,982.5 191.4,982.3 194.4,982.0 197.4,981.8 200.4,981.6 203.4,981.3 206.4,981.1 209.4,980.9 212.4,980.6 215.4,980.4 218.4,980.2 221.4,979.9 224.4,979.7 227.4,979.4 230.4,979.2 233.4,979.0 236.4,978.7 239.4,978.5 242.4,978.3 245.4,978.0 248.4,977.8 251.4,977.6 254.4,977.3 257.4,977.1 260.4,976.8 263.4,976.6 266.4,976.4 269.4,976.1 272.4,975.9 275.4,975.7 278.4,975.4 281.4,975.2 284.4,974.9 287.4,974.7 290.4,974.5 293.4,974.2 296.4,974.0 299.4,973.8 302.4,973.5 305.4,973.3 308.4,973.0 311.4,972.8 314.4,972.6 317.4,972.3 320.4,972.1 323.4,971.8 326.4,971.6 329.4,971.4 332.4,971.1 335.4,970.9 338.4,970.7 341.4,970.4 344.4,970.2 347.4,969.9 350.4,969.7 353.4,969.5 356.4,969.2 359.4,969.0 362.4,968.7 365.4,968.5 368.4,968.3 371.4,968.0 374.4,967.8 377.4,967.5 380.4,967.3 383.4,967.1 386.4,966.8 389.4,966.6 392.4,966.3 395.4,966.1 398.4,965.8 401.4,965.6 404.4,965.4 407.4,965.1 410.4,964.9 413.4,964.6 416.4,964.4 419.4,964.1 422.4,963.9 425.4,963.6 428.4,963.4 431.4,963.1 434.4,962.9 437.4,962.7 440.4,962.4 443.4,962.2 446.4,961.9 449.4,961.6 452.4,961.4 455.4,961.1 458.4,960.9 461.4,960.6 464.4,960.4 467.4,960.1 470.4,959.8 473.4,959.6 476.4,959.3 479.4,959.0 482.4,958.7 485.4,958.4 488.4,958.1 491.4,957.8 494.4,957.5 497.4,957.1 500.4,956.7 503.4,956.2 506.4,955.6 509.4,954.6 512.4,952.9 515.4,949.7 518.4,944.1 521.4,935.9 524.4,927.0 528.0,921.3 530.4,923.4 533.4,930.8 536.4,938.8 539.4,944.7 542.4,948.0 545.4,949.3 548.0,949.6 551.4,949.6 554.4,949.5 557.4,949.2 560.4,948.9 563.4,948.6 566.4,948.2 569.4,947.8 572.4,947.3 575.4,946.9 578.4,946.3 581.4,945.7 584.4,945.1 587.4,944.3 590.4,943.5 593.4,942.5 594.8,942.0 596.4,941.4 599.4,940.0 602.4,938.2 605.4,935.8 608.4,932.3 611.4,927.0 614.4,919.1 617.4,907.4 620.4,890.9 623.4,869.3 626.4,843.3 629.4,815.4 632.4,791.0 636.3,776.7 638.4,780.8 641.4,799.1 644.4,825.2 647.4,852.2 650.4,876.2 653.4,895.2 656.4,909.2 659.4,918.8 662.4,925.0 665.4,928.9 668.4,931.4 671.4,933.0 674.4,934.1 677.4,934.9 680.4,935.5 683.4,935.8 686.4,936.1 689.4,936.3 692.4,936.4 695.4,936.5 698.4,936.5 701.4,936.4 704.4,936.4 707.4,936.3 710.4,936.1 713.4,936.0 716.4,935.8 719.4,935.6 722.4,935.4 725.4,935.2 728.4,935.0 731.4,934.8 734.4,934.5 737.4,934.2 740.0,934.0 743.4,933.8 746.4,933.5 749.4,933.3 752.4,933.1 755.4,932.8 758.4,932.5 761.4,932.2 764.4,931.9 767.4,931.5 770.4,931.1 773.4,930.7 776.4,930.2 779.4,929.6 782.4,928.9 785.4,927.9 788.4,926.7 791.4,925.1 794.4,923.0 797.4,920.2 800.4,916.7 803.4,912.4 806.4,907.3 809.4,901.8 812.4,896.4 815.4,891.8 819.5,889.0 821.4,889.5 824.4,892.3 827.4,896.8 830.4,901.9 833.4,907.0 836.4,911.5 839.4,915.2 842.4,918.1 845.4,920.3 848.4,921.9 851.4,923.1 854.4,923.8 857.4,924.3 860.4,924.7 863.4,924.9 866.4,925.1 869.4,925.2 872.4,925.3 875.4,925.4 878.4,925.4 881.4,925.4 884.4,925.4 887.4,925.3 890.4,925.3 893.4,925.2 896.4,925.2 899.4,925.1 902.4,925.0 905.4,925.0 908.4,924.9 911.4,924.8 914.4,924.7 917.4,924.6 920.4,924.5 923.4,924.4 926.4,924.3 929.4,924.2 932.4,924.1 935.4,923.9 938.4,923.8 941.4,923.7 944.4,923.6 947.4,923.5 950.4,923.3 953.4,923.2 956.4,923.1 959.4,923.0 962.4,922.8 964.8,922.7 968.4,922.5 971.4,922.2 974.4,921.9 977.4,921.5 980.4,920.8 983.4,919.6 986.4,917.9 989.4,916.0 992.4,915.0 995.4,915.6 998.4,917.1 1001.4,918.5 1004.4,919.4 1007.4,919.7 1010.4,919.7 1013.4,919.6 1016.4,919.5 1019.4,919.4 1022.4,919.2 1025.4,919.1 1028.4,919.0 1031.4,918.8 1034.4,918.7 1037.4,918.5 1040.4,918.4 1043.4,918.2 1046.4,918.1 1049.4,917.9 1052.4,917.7 1055.4,917.6 1058.4,917.4 1061.4,917.3 1064.4,917.1 1067.4,917.0 1070.4,916.8 1073.4,916.7 1076.4,916.5 1079.4,916.3 1082.4,916.2 1085.4,916.0 1088.4,915.9 1091.4,915.7 1094.4,915.5 1097.4,915.4 1100.4,915.2 1103.4,915.1 1106.4,914.9 1109.4,914.8 1112.4,914.6 1115.4,914.4 1118.4,914.3 1121.4,914.1 1124.4,914.0 1127.4,913.8 1130.4,913.6 1133.4,913.5 1136.4,913.3 1139.4,913.2 1142.4,913.0 1145.4,912.8 1148.4,912.7 1151.4,912.5 1154.4,912.3 1157.4,912.2 1160.4,912.0 1163.4,911.9 1166.4,911.7 1169.4,911.5 1172.4,911.4 1175.4,911.2 1178.4,911.1 1181.4,910.9 1184.4,910.7 1187.4,910.6 1190.4,910.4 1193.4,910.2 1196.4,910.1 1199.4,909.9 1202.4,909.8 1205.4,909.6 1208.4,909.4 1211.4,909.3 1214.4,909.1 1217.4,908.9 1220.4,908.8 1223.4,908.6 1226.4,908.5 1229.4,908.3 1232.4,908.1 1235.4,908.0 1238.4,907.8 1241.4,907.6 1244.4,907.5 1247.4,907.3 1250.4,907.1 1253.4,907.0 1256.4,906.8 1259.4,906.6 1262.4,906.5 1265.4,906.3 1268.4,906.1 1271.4,905.9 1274.4,905.8 1277.4,905.6 1280.4,905.4 1283.4,905.3 1286.4,905.1 1289.4,904.9 1292.4,904.7 1295.4,904.4 1298.4,904.1 1301.4,903.7 1304.4,903.4 1307.4,903.0 1310.4,902.7 1313.4,902.3 1316.4,902.0 1319.4,901.6 1322.4,901.2 1325.4,900.9 1328.4,900.5 1331.4,900.1 1334.4,899.7 1337.4,899.3 1340.0,899.0 1343.4,898.2 1346.4,897.4 1349.4,896.7 1352.0,896.0 1355.4,896.3 1358.4,896.5 1361.4,896.7 1364.4,896.9 1367.4,897.0 1370.4,897.0 1372.8,897.0 1376.4,896.2 1379.4,895.4 1382.4,894.3 1385.4,892.8 1388.4,890.9 1391.4,888.5 1394.4,885.6 1397.4,882.2 1400.4,878.3 1403.4,874.3 1406.4,870.6 1409.4,867.8 1412.6,866.6 1415.4,867.4 1418.4,869.8 1421.4,873.3 1424.4,877.2 1427.4,880.9 1430.4,884.3 1433.4,887.1 1436.4,889.4 1439.4,891.2 1442.4,892.6 1445.4,893.6 1448.4,894.3 1451.4,894.8 1454.4,895.2 1455.8,895.3 1457.4,895.4 1460.4,895.6 1463.4,895.7 1466.4,895.8 1469.4,895.9 1472.4,896.0 1475.4,896.0 1478.4,896.0 1480.0,896.0 1481.4,896.0 1484.4,896.1 1487.4,896.1 1490.4,896.2 1493.4,896.2 1496.4,896.2 1499.4,896.3 1502.4,896.3 1505.4,896.3 1508.4,896.3 1511.4,896.3 1514.4,896.3 1517.4,896.3 1520.4,896.3 1523.4,896.3 1526.4,896.3 1529.4,896.3 1532.4,896.3 1535.4,896.3 1538.4,896.3 1541.4,896.3 1544.4,896.3 1547.4,896.3 1550.4,896.3 1553.4,896.3 1556.4,896.2 1559.4,896.2 1562.4,896.2 1565.4,896.2 1568.4,896.2 1571.4,896.2 1574.4,896.1 1577.4,896.1 1580.4,896.1 1583.4,896.1 1586.4,896.1 1589.4,896.0 1592.4,896.0 1595.4,896.0 1598.4,896.0 1601.4,896.0 1604.4,895.9 1607.4,895.9 1610.4,895.9 1613.4,895.9 1616.4,895.8 1619.4,895.8 1622.4,895.8 1625.4,895.7 1628.4,895.7 1631.4,895.7 1634.4,895.7 1637.4,895.6 1640.4,895.6 1643.4,895.5 1646.4,895.5 1649.4,895.5 1652.4,895.4 1655.4,895.4 1658.4,895.3 1661.4,895.3 1664.4,895.2 1667.4,895.2 1670.4,895.1 1673.4,895.0 1676.4,895.0 1679.4,894.9 1682.4,894.8 1685.4,894.7 1688.4,894.6 1691.4,894.5 1694.4,894.4 1697.4,894.3 1700.4,894.1 1703.4,893.9 1706.4,893.7 1709.4,893.4 1712.4,893.0 1715.4,892.5 1718.4,891.9 1721.4,891.1 1724.4,890.0 1727.4,888.6 1730.4,887.0 1733.4,884.9 1736.4,882.5 1739.4,879.8 1742.4,876.8 1745.4,873.8 1748.4,871.0 1751.4,868.6 1754.4,867.1 1757.0,866.6 1760.4,867.4 1763.4,869.2 1766.4,871.7 1769.4,874.6 1772.4,877.7 1775.4,880.5 1778.4,883.2 1781.4,885.5 1784.4,887.5 1787.4,889.1 1790.4,890.3 1793.4,891.3 1796.4,892.1 1799.4,892.7 1802.4,893.1 1805.4,893.4 1807.3,893.6 1811.4,893.9 1814.4,894.1 1817.4,894.3 1820.4,894.4 1823.4,894.5 1826.4,894.5 1829.4,894.5 1832.4,894.5 1835.4,894.3 1838.4,894.0 1841.4,893.6 1844.4,892.9 1847.4,892.0 1850.4,890.9 1853.4,889.6 1856.4,888.3 1859.4,887.1 1862.4,886.4 1864.4,886.3 1868.4,887.0 1871.4,888.2 1874.4,889.6 1877.4,891.1 1880.4,892.4 1883.4,893.6 1886.4,894.5 1889.4,895.1 1892.4,895.7 1895.4,896.1 1898.4,896.4 1901.4,896.7 1904.4,896.9 1907.4,897.1 1910.4,897.2 1913.4,897.4 1916.4,897.5 1919.4,897.7 1922.4,897.8 1925.4,898.0 1928.4,898.1 1931.4,898.2 1934.4,898.4 1937.4,898.5 1940.4,898.6 1943.4,898.7 1946.4,898.9 1949.4,899.0 1952.4,899.1 1955.4,899.2 1958.4,899.4 1961.4,899.5 1964.4,899.6 1967.4,899.7 1970.4,899.8 1973.4,900.0 1976.4,900.1 1979.4,900.2 1982.4,900.3 1985.4,900.4 1988.4,900.5 1991.4,900.7 1994.4,900.8 1997.4,900.9 2000.4,901.0 2003.4,901.1 2006.4,901.2 2009.4,901.3 2012.4,901.5 2015.4,901.6 2018.4,901.7 2021.4,901.8 2024.4,901.9 2027.4,902.0 2030.4,902.1 2033.4,902.3 2036.4,902.4 2039.4,902.5 2042.4,902.6 2045.4,902.7 2048.4,902.8 2051.4,902.9 2054.4,903.1 2057.4,903.2 2060.4,903.3 2063.4,903.4 2066.4,903.5 2069.4,903.6 2072.4,903.7 2075.4,903.8 2078.4,904.0 2081.4,904.1 2084.4,904.2 2087.4,904.3 2090.4,904.4 2093.4,904.5 2096.4,904.6 2099.4,904.7 2102.4,904.9 2105.4,905.0 2108.4,905.1 2111.4,905.2 2114.4,905.3 2116.8,905.4" stroke="#8b8b00" stroke-width="3.9"/>
<path d="M175.8,1068.3 179.0,1068.2 182.0,1068.1 185.0,1068.0 188.0,1067.9 191.0,1067.8 194.0,1067.7 197.0,1067.6 200.0,1067.5 203.0,1067.4 206.0,1067.3 209.0,1067.2 212.0,1067.1 215.0,1067.0 218.0,1066.9 221.0,1066.8 224.0,1066.7 227.0,1066.6 230.0,1066.5 233.0,1066.4 236.0,1066.3 239.0,1066.2 242.0,1066.1 245.0,1066.0 248.0,1065.9 251.0,1065.8 254.0,1065.7 257.0,1065.6 260.0,1065.5 263.0,1065.4 266.0,1065.3 269.0,1065.2 272.0,1065.1 275.0,1065.0 278.0,1064.9 281.0,1064.8 284.0,1064.7 287.0,1064.6 290.0,1064.4 293.0,1064.3 296.0,1064.2 299.0,1064.1 302.0,1064.0 305.0,1063.9 308.0,1063.8 311.0,1063.7 314.0,1063.6 317.0,1063.5 320.0,1063.4 323.0,1063.3 326.0,1063.2 329.0,1063.1 332.0,1063.0 335.0,1062.9 338.0,1062.8 341.0,1062.7 344.0,1062.6 347.0,1062.5 350.0,1062.4 353.0,1062.3 356.0,1062.2 359.0,1062.1 362.0,1062.0 365.0,1061.9 368.0,1061.8 371.0,1061.7 374.0,1061.6 377.0,1061.4 380.0,1061.3 383.0,1061.2 386.0,1061.1 389.0,1061.0 392.0,1060.9 395.0,1060.8 398.0,1060.7 401.0,1060.6 404.0,1060.5 407.0,1060.4 410.0,1060.3 413.0,1060.2 416.0,1060.1 419.0,1059.9 422.0,1059.8 425.0,1059.7 428.0,1059.6 431.0,1059.5 434.0,1059.4 437.0,1059.3 440.0,1059.2 443.0,1059.0 446.0,1058.9 449.0,1058.8 452.0,1058.7 455.0,1058.6 458.0,1058.5 461.0,1058.3 464.0,1058.2 467.0,1058.1 470.0,1057.9 473.0,1057.8 476.0,1057.7 479.0,1057.5 482.0,1057.4 485.0,1057.2 488.0,1057.1 491.0,1056.9 494.0,1056.7 497.0,1056.5 500.0,1056.3 501.4,1056.2 503.0,1056.0 506.0,1055.4 509.0,1054.5 512.0,1052.9 515.0,1049.9 518.0,1045.3 521.0,1039.7 524.0,1035.3 525.6,1034.4 530.0,1038.4 533.0,1043.4 536.0,1047.4 539.0,1049.8 542.0,1050.9 545.0,1051.3 548.0,1051.4 551.0,1051.3 554.0,1051.2 557.0,1051.0 560.0,1050.8 563.0,1050.6 566.0,1050.3 569.0,1050.0 572.0,1049.6 575.0,1049.2 578.0,1048.7 581.0,1048.1 584.0,1047.5 587.0,1046.7 590.0,1045.8 593.0,1044.6 596.0,1043.2 599.0,1041.3 602.0,1038.6 605.0,1034.6 608.0,1028.5 611.0,1018.8 614.0,1004.3 617.0,983.5 620.0,956.0 623.0,923.0 626.0,888.6 629.0,860.6 632.0,849.4 635.0,860.4 638.0,888.2 641.0,922.4 644.0,955.2 647.0,982.5 650.0,1003.1 653.0,1017.4 656.0,1026.8 659.0,1032.8 662.0,1036.6 665.0,1039.0 668.0,1040.7 671.0,1042.0 674.0,1042.9 677.0,1043.6 680.0,1044.1 683.0,1044.4 686.0,1044.7 689.0,1044.9 692.0,1045.1 695.0,1045.2 698.0,1045.2 701.0,1045.2 704.0,1045.2 707.0,1045.2 710.0,1045.1 713.0,1045.1 716.0,1045.0 719.0,1044.9 722.0,1044.7 725.0,1044.6 728.0,1044.4 731.0,1044.3 734.0,1044.1 737.0,1043.9 740.0,1043.7 743.0,1043.6 746.0,1043.5 749.0,1043.4 752.0,1043.3 755.0,1043.2 758.0,1043.0 761.0,1042.9 764.0,1042.7 767.0,1042.4 770.0,1042.2 773.0,1041.8 776.0,1041.4 779.0,1040.9 782.0,1040.2 785.0,1039.1 788.0,1037.6 791.0,1035.3 794.0,1032.1 797.0,1027.7 800.0,1022.0 803.0,1015.2 806.0,1007.8 809.0,1000.8 812.0,995.9 814.3,994.6 818.0,997.7 821.0,1003.7 824.0,1010.9 827.0,1018.0 830.0,1024.2 833.0,1029.1 836.0,1032.8 839.0,1035.4 842.0,1037.2 845.0,1038.4 848.0,1039.1 851.0,1039.6 854.0,1040.0 857.0,1040.2 860.0,1040.4 863.0,1040.5 864.5,1040.6 866.0,1040.7 869.0,1040.8 872.0,1040.9 875.0,1040.9 878.0,1041.0 881.0,1041.0 884.0,1041.1 887.0,1041.1 890.0,1041.1 893.0,1041.1 896.0,1041.1 899.0,1041.1 902.0,1041.1 905.0,1041.1 908.0,1041.1 911.0,1041.1 914.0,1041.1 917.0,1041.1 920.0,1041.1 923.0,1041.0 926.0,1041.0 929.0,1041.0 932.0,1041.0 935.0,1040.9 938.0,1040.9 941.0,1040.9 944.0,1040.9 947.0,1040.8 950.0,1040.8 953.0,1040.8 956.0,1040.7 959.0,1040.7 962.0,1040.6 964.8,1040.6 968.0,1040.5 971.0,1040.3 974.0,1040.1 977.0,1039.8 980.0,1039.2 983.0,1038.1 986.0,1036.8 989.0,1036.0 992.0,1036.5 995.0,1037.7 998.0,1038.5 1001.0,1038.9 1004.0,1039.0 1007.0,1039.0 1009.7,1038.9 1013.0,1038.8 1016.0,1038.8 1019.0,1038.7 1022.0,1038.7 1025.0,1038.6 1028.0,1038.6 1031.0,1038.5 1034.0,1038.4 1037.0,1038.4 1040.0,1038.3 1043.0,1038.2 1046.0,1038.2 1049.0,1038.1 1052.0,1038.0 1055.0,1038.0 1058.0,1037.9 1061.0,1037.8 1064.0,1037.7 1067.0,1037.7 1070.0,1037.6 1073.0,1037.5 1076.0,1037.5 1079.0,1037.4 1082.0,1037.3 1085.0,1037.3 1088.0,1037.2 1091.0,1037.1 1094.0,1037.1 1097.0,1037.0 1100.0,1036.9 1103.0,1036.8 1106.0,1036.8 1109.0,1036.7 1112.0,1036.6 1115.0,1036.6 1118.0,1036.5 1121.0,1036.4 1124.0,1036.4 1127.0,1036.3 1130.0,1036.2 1133.0,1036.1 1136.0,1036.1 1139.0,1036.0 1142.0,1035.9 1145.0,1035.9 1148.0,1035.8 1151.0,1035.7 1154.0,1035.6 1157.0,1035.6 1160.0,1035.5 1163.0,1035.4 1166.0,1035.4 1169.0,1035.3 1172.0,1035.2 1175.0,1035.1 1178.0,1035.1 1181.0,1035.0 1184.0,1034.9 1187.0,1034.8 1190.0,1034.8 1193.0,1034.7 1196.0,1034.6 1199.0,1034.6 1202.0,1034.5 1205.0,1034.4 1208.0,1034.3 1211.0,1034.3 1214.0,1034.2 1217.0,1034.1 1220.0,1034.0 1223.0,1034.0 1226.0,1033.9 1229.0,1033.8 1232.0,1033.7 1235.0,1033.7 1238.0,1033.6 1241.0,1033.5 1244.0,1033.4 1247.0,1033.4 1250.0,1033.3 1253.0,1033.2 1256.0,1033.1 1259.0,1033.0 1262.0,1033.0 1265.0,1032.9 1268.0,1032.8 1271.0,1032.7 1274.0,1032.6 1277.0,1032.6 1280.0,1032.5 1283.0,1032.4 1286.0,1032.3 1289.0,1032.2 1292.0,1032.1 1295.0,1032.0 1298.0,1031.9 1301.0,1031.9 1304.0,1031.8 1307.0,1031.7 1310.0,1031.6 1313.0,1031.5 1316.0,1031.4 1319.0,1031.2 1322.0,1031.1 1325.0,1031.0 1327.8,1030.9 1331.0,1030.6 1334.0,1030.3 1337.0,1030.0 1340.0,1029.7 1343.0,1029.4 1346.0,1029.0 1349.0,1028.7 1352.0,1028.3 1355.0,1027.9 1358.0,1027.5 1361.0,1027.3 1364.0,1027.0 1367.0,1026.7 1370.0,1026.2 1373.0,1025.5 1376.0,1024.6 1379.0,1023.4 1382.0,1021.7 1385.0,1019.4 1388.0,1016.5 1391.0,1013.0 1394.0,1008.8 1397.0,1004.3 1400.0,999.9 1403.0,996.4 1406.7,994.6 1409.0,995.3 1412.0,998.1 1415.0,1002.3 1418.0,1006.8 1421.0,1011.3 1424.0,1015.2 1427.0,1018.4 1430.0,1021.0 1433.0,1023.0 1436.0,1024.5 1439.0,1025.6 1442.0,1026.4 1445.0,1026.9 1448.0,1027.4 1451.0,1027.8 1454.0,1028.1 1457.0,1028.4 1460.0,1028.7 1463.0,1028.9 1466.0,1029.1 1469.0,1029.3 1472.0,1029.5 1475.0,1029.6 1478.0,1029.8 1480.0,1029.9 1484.0,1029.9 1487.0,1029.9 1490.0,1029.9 1493.0,1029.9 1496.0,1029.9 1499.0,1029.9 1502.0,1029.9 1505.0,1029.9 1508.0,1029.9 1511.0,1029.9 1514.0,1029.9 1517.0,1029.8 1520.0,1029.8 1523.0,1029.8 1526.0,1029.8 1529.0,1029.7 1532.0,1029.7 1535.0,1029.7 1538.0,1029.6 1541.0,1029.6 1544.0,1029.6 1547.0,1029.5 1550.0,1029.5 1553.0,1029.5 1556.0,1029.4 1559.0,1029.4 1562.0,1029.4 1565.0,1029.3 1568.0,1029.3 1571.0,1029.2 1574.0,1029.2 1577.0,1029.2 1580.0,1029.1 1583.0,1029.1 1586.0,1029.0 1589.0,1029.0 1592.0,1028.9 1595.0,1028.9 1598.0,1028.9 1601.0,1028.8 1604.0,1028.8 1607.0,1028.7 1610.0,1028.7 1613.0,1028.6 1616.0,1028.6 1619.0,1028.5 1622.0,1028.5 1625.0,1028.4 1628.0,1028.4 1631.0,1028.3 1634.0,1028.2 1637.0,1028.2 1640.0,1028.1 1643.0,1028.1 1646.0,1028.0 1649.0,1027.9 1652.0,1027.9 1655.0,1027.8 1658.0,1027.7 1661.0,1027.6 1664.0,1027.5 1667.0,1027.4 1670.0,1027.3 1673.0,1027.2 1676.0,1027.1 1679.0,1027.0 1682.0,1026.9 1685.0,1026.7 1688.0,1026.6 1691.0,1026.4 1694.0,1026.2 1697.0,1026.0 1700.0,1025.7 1703.0,1025.4 1706.0,1025.0 1709.0,1024.5 1712.0,1023.8 1715.0,1022.8 1718.0,1021.6 1721.0,1020.0 1724.0,1017.9 1727.0,1015.4 1730.0,1012.5 1733.0,1009.2 1736.0,1005.6 1739.0,1001.9 1742.0,998.6 1745.0,996.1 1749.2,994.6 1751.0,994.9 1754.0,996.5 1757.0,999.3 1760.0,1002.7 1763.0,1006.4 1766.0,1009.9 1769.0,1013.2 1772.0,1016.1 1775.0,1018.5 1778.0,1020.4 1781.0,1022.0 1784.0,1023.2 1787.0,1024.1 1790.0,1024.7 1793.0,1025.2 1796.0,1025.6 1799.0,1025.9 1802.0,1026.1 1805.0,1026.3 1808.0,1026.5 1811.0,1026.6 1814.0,1026.6 1817.0,1026.7 1820.0,1026.6 1823.0,1026.5 1826.0,1026.3 1829.0,1025.8 1832.0,1025.1 1835.0,1024.2 1838.0,1022.9 1841.0,1021.3 1844.0,1019.4 1847.0,1017.6 1850.0,1015.9 1853.0,1014.9 1855.0,1014.7 1859.0,1015.7 1862.0,1017.3 1865.0,1019.2 1868.0,1021.3 1871.0,1023.1 1874.0,1024.6 1877.0,1025.9 1880.0,1026.8 1883.0,1027.4 1886.0,1027.9 1889.0,1028.2 1892.0,1028.4 1895.0,1028.6 1898.0,1028.7 1901.0,1028.8 1904.0,1028.9 1907.0,1029.0 1910.0,1029.1 1913.0,1029.1 1916.0,1029.2 1919.0,1029.3 1922.0,1029.3 1925.0,1029.4 1928.0,1029.4 1931.0,1029.5 1934.0,1029.5 1937.0,1029.6 1940.0,1029.6 1943.0,1029.7 1946.0,1029.7 1949.0,1029.7 1952.0,1029.8 1955.0,1029.8 1958.0,1029.9 1961.0,1029.9 1964.0,1029.9 1967.0,1030.0 1970.0,1030.0 1973.0,1030.1 1976.0,1030.1 1979.0,1030.1 1982.0,1030.2 1985.0,1030.2 1988.0,1030.2 1991.0,1030.3 1994.0,1030.3 1997.0,1030.3 2000.0,1030.4 2003.0,1030.4 2006.0,1030.4 2009.0,1030.5 2012.0,1030.5 2015.0,1030.5 2018.0,1030.6 2021.0,1030.6 2024.0,1030.6 2027.0,1030.7 2030.0,1030.7 2033.0,1030.7 2036.0,1030.8 2039.0,1030.8 2042.0,1030.8 2045.0,1030.9 2048.0,1030.9 2051.0,1030.9 2054.0,1031.0 2057.0,1031.0 2060.0,1031.0 2063.0,1031.0 2066.0,1031.1 2069.0,1031.1 2072.0,1031.1 2075.0,1031.2 2078.0,1031.2 2081.0,1031.2 2084.0,1031.3 2087.0,1031.3 2090.0,1031.3 2093.0,1031.4 2096.0,1031.4 2099.0,1031.4 2102.0,1031.4 2105.0,1031.5 2108.0,1031.5 2111.0,1031.5 2114.0,1031.6 2116.8,1031.6" stroke="#ff00ff" stroke-width="4.1"/>
<path d="M175.8,1191.3 177.2,1191.3 180.2,1191.2 183.2,1191.1 186.2,1191.0 189.2,1190.9 192.2,1190.8 195.2,1190.8 198.2,1190.7 201.2,1190.6 204.2,1190.5 207.2,1190.4 210.2,1190.3 213.2,1190.3 216.2,1190.2 219.2,1190.1 222.2,1190.0 225.2,1189.9 228.2,1189.8 231.2,1189.7 234.2,1189.7 237.2,1189.6 240.2,1189.5 243.2,1189.4 246.2,1189.3 249.2,1189.2 252.2,1189.2 255.2,1189.1 258.2,1189.0 261.2,1188.9 264.2,1188.8 267.2,1188.7 270.2,1188.6 273.2,1188.6 276.2,1188.5 279.2,1188.4 282.2,1188.3 285.2,1188.2 288.2,1188.1 291.2,1188.0 294.2,1188.0 297.2,1187.9 300.2,1187.8 303.2,1187.7 306.2,1187.6 309.2,1187.5 312.2,1187.4 315.2,1187.4 318.2,1187.3 321.2,1187.2 324.2,1187.1 327.2,1187.0 330.2,1186.9 333.2,1186.8 336.2,1186.8 339.2,1186.7 342.2,1186.6 345.2,1186.5 348.2,1186.4 351.2,1186.3 354.2,1186.2 357.2,1186.1 360.2,1186.1 363.2,1186.0 366.2,1185.9 369.2,1185.8 372.2,1185.7 375.2,1185.6 378.2,1185.5 381.2,1185.4 384.2,1185.3 387.2,1185.3 390.2,1185.2 393.2,1185.1 396.2,1185.0 399.2,1184.9 402.2,1184.8 405.2,1184.7 408.2,1184.6 411.2,1184.5 414.2,1184.4 417.2,1184.3 420.2,1184.2 423.2,1184.2 426.2,1184.1 429.2,1184.0 432.2,1183.9 435.2,1183.8 438.2,1183.7 441.2,1183.6 444.2,1183.5 447.2,1183.4 450.2,1183.3 453.2,1183.2 456.2,1183.1 459.2,1183.0 462.2,1182.9 465.2,1182.7 468.2,1182.6 471.2,1182.5 474.2,1182.4 477.2,1182.3 480.2,1182.1 483.2,1182.0 486.2,1181.9 489.2,1181.7 492.2,1181.6 495.2,1181.4 498.2,1181.2 501.2,1180.9 504.2,1180.4 507.2,1179.6 510.2,1178.1 513.2,1175.2 516.2,1170.8 519.2,1165.3 522.2,1160.8 523.9,1159.9 528.2,1163.8 531.2,1168.7 534.2,1172.8 537.2,1175.3 539.4,1176.2 543.2,1176.8 546.2,1176.8 549.2,1176.7 552.2,1176.5 555.2,1176.2 558.2,1176.0 561.2,1175.6 564.2,1175.3 567.2,1174.9 570.2,1174.4 573.2,1173.9 576.2,1173.3 579.2,1172.6 582.2,1171.8 585.0,1171.0 588.2,1170.0 591.2,1168.8 594.2,1167.3 597.2,1165.2 600.2,1162.0 603.2,1157.0 606.2,1149.0 609.2,1136.3 612.2,1117.2 615.2,1090.6 618.2,1057.0 621.2,1019.8 624.2,986.7 627.8,969.2 630.2,977.3 633.2,1005.6 636.2,1042.4 639.2,1078.1 642.2,1107.7 645.2,1129.8 648.2,1144.9 651.2,1154.7 654.2,1160.7 657.2,1164.6 660.2,1167.1 663.2,1168.9 666.2,1170.2 669.2,1171.3 672.2,1172.2 674.3,1172.7 678.2,1173.3 681.2,1173.6 684.2,1173.9 687.2,1174.1 690.2,1174.3 693.2,1174.4 696.2,1174.5 699.2,1174.6 702.2,1174.6 705.2,1174.6 708.2,1174.6 711.2,1174.6 714.2,1174.5 717.2,1174.5 720.2,1174.4 723.2,1174.3 726.2,1174.3 729.2,1174.2 732.2,1174.0 735.2,1173.9 738.2,1173.8 740.0,1173.7 741.2,1173.7 744.2,1173.5 747.2,1173.4 750.2,1173.2 753.2,1173.1 756.2,1172.9 759.2,1172.7 762.2,1172.4 765.2,1172.1 768.2,1171.8 771.2,1171.4 774.2,1171.0 777.2,1170.3 780.2,1169.5 783.2,1168.2 786.2,1166.4 789.2,1163.7 792.2,1160.0 795.2,1155.1 798.2,1149.0 801.2,1142.1 804.2,1135.0 807.2,1129.1 810.9,1126.0 813.2,1127.1 816.2,1131.7 819.2,1138.2 822.2,1145.1 825.2,1151.5 828.2,1156.8 831.2,1160.8 834.2,1163.8 837.2,1165.8 840.2,1167.1 843.2,1167.9 846.2,1168.5 849.2,1168.9 852.2,1169.1 854.0,1169.2 855.2,1169.4 858.2,1169.7 861.2,1170.1 864.2,1170.4 867.2,1170.6 870.2,1170.9 873.2,1171.1 876.2,1171.4 879.2,1171.6 882.2,1171.8 885.2,1172.0 888.2,1172.2 891.2,1172.4 894.2,1172.6 897.2,1172.8 900.2,1173.0 903.2,1173.1 906.2,1173.3 909.2,1173.5 912.2,1173.7 915.2,1173.6 918.2,1173.5 921.2,1173.3 924.2,1173.2 927.2,1173.1 930.2,1172.9 933.2,1172.8 936.2,1172.6 939.2,1172.5 942.2,1172.3 945.2,1172.2 948.2,1172.1 951.2,1171.9 954.2,1171.8 957.2,1171.6 960.2,1171.4 963.2,1171.3 966.2,1171.1 969.2,1170.9 972.2,1170.7 975.2,1170.3 978.2,1169.6 981.2,1168.3 984.2,1166.7 987.2,1165.8 990.2,1166.4 993.2,1167.7 996.2,1168.7 999.2,1169.1 1002.2,1169.2 1005.2,1169.2 1008.2,1169.2 1011.2,1169.2 1014.2,1169.1 1017.2,1169.1 1020.2,1169.0 1023.2,1169.0 1026.2,1168.9 1029.2,1168.9 1032.2,1168.8 1035.2,1168.8 1038.2,1168.7 1041.2,1168.7 1044.2,1168.6 1047.2,1168.5 1050.2,1168.5 1053.2,1168.4 1056.2,1168.4 1059.2,1168.3 1062.2,1168.3 1065.2,1168.2 1068.2,1168.1 1071.2,1168.1 1074.2,1168.0 1077.2,1168.0 1080.2,1167.9 1083.2,1167.8 1086.2,1167.8 1089.2,1167.7 1092.2,1167.7 1095.2,1167.6 1098.2,1167.6 1101.2,1167.5 1104.2,1167.4 1107.2,1167.4 1110.2,1167.3 1113.2,1167.3 1116.2,1167.2 1119.2,1167.1 1122.2,1167.1 1125.2,1167.0 1128.2,1167.0 1131.2,1166.9 1134.2,1166.8 1137.2,1166.8 1140.2,1166.7 1143.2,1166.7 1146.2,1166.6 1149.2,1166.5 1152.2,1166.5 1155.2,1166.4 1158.2,1166.4 1161.2,1166.3 1164.2,1166.2 1167.2,1166.2 1170.2,1166.1 1173.2,1166.0 1176.2,1166.0 1179.2,1165.9 1182.2,1165.9 1185.2,1165.8 1188.2,1165.7 1191.2,1165.7 1194.2,1165.6 1197.2,1165.6 1200.2,1165.5 1203.2,1165.4 1206.2,1165.4 1209.2,1165.3 1212.2,1165.2 1215.2,1165.2 1218.2,1165.1 1221.2,1165.0 1224.2,1165.0 1227.2,1164.9 1230.2,1164.9 1233.2,1164.8 1236.2,1164.7 1239.2,1164.7 1242.2,1164.6 1245.2,1164.5 1248.2,1164.5 1251.2,1164.4 1254.2,1164.3 1257.2,1164.3 1260.2,1164.2 1263.2,1164.1 1266.2,1164.1 1269.2,1164.0 1272.2,1163.9 1275.2,1163.8 1278.2,1163.8 1281.2,1163.7 1284.2,1163.6 1287.2,1163.5 1290.2,1163.5 1293.2,1163.4 1296.2,1163.3 1299.2,1163.2 1302.2,1163.1 1305.2,1163.1 1308.2,1163.0 1311.2,1162.9 1314.2,1162.8 1317.2,1162.7 1320.2,1162.6 1323.2,1162.5 1326.2,1162.4 1327.8,1162.3 1329.2,1162.2 1332.2,1161.9 1335.2,1161.7 1338.2,1161.4 1341.2,1161.1 1344.2,1160.8 1347.2,1160.5 1350.2,1160.1 1353.2,1159.7 1355.0,1159.5 1356.2,1159.4 1359.2,1159.2 1362.2,1159.0 1365.2,1158.6 1368.2,1158.0 1371.2,1157.2 1374.2,1156.0 1377.2,1154.5 1380.2,1152.4 1383.2,1149.7 1386.2,1146.5 1389.2,1142.7 1392.2,1138.7 1395.2,1135.0 1398.2,1132.2 1401.2,1131.2 1404.2,1132.3 1407.2,1135.2 1410.2,1139.1 1413.2,1143.3 1416.2,1147.2 1419.2,1150.6 1422.2,1153.4 1425.2,1155.7 1428.2,1157.4 1431.2,1158.7 1434.2,1159.6 1437.2,1160.3 1438.5,1160.6 1440.2,1160.8 1443.2,1161.0 1446.2,1161.1 1449.2,1161.2 1452.2,1161.2 1455.2,1161.2 1458.2,1161.2 1461.2,1161.1 1464.2,1161.1 1467.2,1161.0 1470.2,1160.9 1473.2,1160.8 1476.2,1160.7 1479.2,1160.6 1482.2,1160.6 1485.2,1160.7 1488.2,1160.7 1491.2,1160.8 1494.2,1160.8 1497.2,1160.8 1500.2,1160.9 1503.2,1160.9 1506.2,1160.9 1509.2,1160.9 1512.2,1161.0 1515.2,1161.0 1518.2,1161.0 1521.2,1161.0 1524.2,1161.0 1527.2,1161.0 1530.2,1161.1 1533.2,1161.1 1536.2,1161.1 1539.2,1161.1 1542.2,1161.1 1545.2,1161.1 1548.2,1161.1 1551.2,1161.1 1554.2,1161.1 1557.2,1161.2 1560.2,1161.2 1563.2,1161.2 1566.2,1161.2 1569.2,1161.2 1572.2,1161.2 1575.2,1161.2 1578.2,1161.2 1581.2,1161.2 1584.2,1161.2 1587.2,1161.2 1590.2,1161.2 1593.2,1161.2 1596.2,1161.2 1599.2,1161.2 1602.2,1161.2 1605.2,1161.2 1608.2,1161.2 1611.2,1161.2 1614.2,1161.2 1617.2,1161.2 1620.2,1161.2 1623.2,1161.1 1626.2,1161.1 1629.2,1161.1 1632.2,1161.1 1635.2,1161.1 1638.2,1161.1 1641.2,1161.1 1644.2,1161.0 1647.2,1161.0 1650.2,1161.0 1653.2,1160.9 1656.2,1160.9 1659.2,1160.9 1662.2,1160.8 1665.2,1160.8 1668.2,1160.7 1671.2,1160.6 1674.2,1160.6 1677.2,1160.5 1680.2,1160.4 1683.2,1160.3 1686.2,1160.1 1689.2,1159.9 1692.2,1159.7 1695.2,1159.5 1698.2,1159.2 1700.0,1158.9 1701.2,1158.7 1704.2,1158.1 1707.2,1157.3 1710.2,1156.2 1713.2,1154.8 1716.2,1153.0 1719.2,1150.8 1722.2,1148.1 1725.2,1145.0 1728.2,1141.5 1731.2,1137.8 1734.2,1134.1 1737.2,1130.9 1740.2,1128.7 1743.4,1127.8 1746.2,1128.5 1749.2,1130.5 1752.2,1133.6 1755.2,1137.2 1758.2,1140.8 1761.2,1144.3 1764.2,1147.5 1767.2,1150.2 1770.2,1152.5 1773.2,1154.3 1776.2,1155.7 1779.2,1156.8 1782.2,1157.6 1785.2,1158.2 1788.2,1158.7 1791.2,1159.0 1794.2,1159.3 1797.2,1159.5 1800.2,1159.6 1803.2,1159.7 1806.2,1159.8 1809.2,1159.8 1812.2,1159.8 1815.2,1159.7 1818.2,1159.5 1821.2,1159.1 1824.2,1158.6 1827.2,1157.7 1830.2,1156.6 1833.2,1155.1 1836.2,1153.3 1839.2,1151.4 1842.2,1149.6 1845.2,1148.2 1848.8,1147.5 1851.2,1147.9 1854.2,1149.1 1857.2,1150.9 1860.2,1152.9 1863.2,1154.8 1866.2,1156.5 1869.2,1157.8 1872.2,1158.9 1875.2,1159.6 1876.5,1159.9 1878.2,1160.2 1881.2,1160.5 1884.2,1160.8 1887.2,1161.0 1890.2,1161.1 1893.2,1161.2 1896.2,1161.3 1899.2,1161.4 1902.2,1161.4 1905.2,1161.5 1908.2,1161.5 1911.2,1161.6 1914.2,1161.6 1917.2,1161.7 1920.2,1161.7 1923.2,1161.7 1926.2,1161.8 1929.2,1161.8 1932.2,1161.8 1935.2,1161.9 1938.2,1161.9 1941.2,1161.9 1944.2,1162.0 1947.2,1162.0 1950.2,1162.0 1953.2,1162.0 1956.2,1162.1 1959.2,1162.1 1962.2,1162.1 1965.2,1162.1 1968.2,1162.1 1971.2,1162.2 1974.2,1162.2 1977.2,1162.2 1980.2,1162.2 1983.2,1162.2 1986.2,1162.3 1989.2,1162.3 1992.2,1162.3 1995.2,1162.3 1998.2,1162.3 2001.2,1162.4 2004.2,1162.4 2007.2,1162.4 2010.2,1162.4 2013.2,1162.4 2016.2,1162.5 2019.2,1162.5 2022.2,1162.5 2025.2,1162.5 2028.2,1162.5 2031.2,1162.5 2034.2,1162.6 2037.2,1162.6 2040.2,1162.6 2043.2,1162.6 2046.2,1162.6 2049.2,1162.6 2052.2,1162.7 2055.2,1162.7 2058.2,1162.7 2061.2,1162.7 2064.2,1162.7 2067.2,1162.7 2070.2,1162.8 2073.2,1162.8 2076.2,1162.8 2079.2,1162.8 2082.2,1162.8 2085.2,1162.8 2088.2,1162.8 2091.2,1162.9 2094.2,1162.9 2097.2,1162.9 2100.2,1162.9 2103.2,1162.9 2106.2,1162.9 2109.2,1163.0 2112.2,1163.0 2115.2,1163.0 2116.8,1163.0" stroke="#00ffff" stroke-width="3.8"/>
<path d="M175.8,1484.2 177.6,1484.2 180.6,1484.1 183.6,1484.1 186.6,1484.1 189.6,1484.0 192.6,1484.0 195.6,1483.9 198.6,1483.9 201.6,1483.9 204.6,1483.8 207.6,1483.8 210.6,1483.7 213.6,1483.7 216.6,1483.6 219.6,1483.6 222.6,1483.6 225.6,1483.5 228.6,1483.5 231.6,1483.4 234.6,1483.4 237.6,1483.4 240.6,1483.3 243.6,1483.3 246.6,1483.2 249.6,1483.2 252.6,1483.1 255.6,1483.1 258.6,1483.1 261.6,1483.0 264.6,1483.0 267.6,1482.9 270.6,1482.9 273.6,1482.9 276.6,1482.8 279.6,1482.8 282.6,1482.7 285.6,1482.7 288.6,1482.6 291.6,1482.6 294.6,1482.6 297.6,1482.5 300.6,1482.5 303.6,1482.4 306.6,1482.4 309.6,1482.3 312.6,1482.3 315.6,1482.2 318.6,1482.2 321.6,1482.2 324.6,1482.1 327.6,1482.1 330.6,1482.0 333.6,1482.0 336.6,1481.9 339.6,1481.9 342.6,1481.8 345.6,1481.8 348.6,1481.8 351.6,1481.7 354.6,1481.7 357.6,1481.6 360.6,1481.6 363.6,1481.5 366.6,1481.5 369.6,1481.4 372.6,1481.4 375.6,1481.3 378.6,1481.3 381.6,1481.2 384.6,1481.2 387.6,1481.1 390.6,1481.1 393.6,1481.0 396.6,1481.0 399.6,1480.9 402.6,1480.9 405.6,1480.8 408.6,1480.8 411.6,1480.7 414.6,1480.7 417.6,1480.6 420.6,1480.6 423.6,1480.5 426.6,1480.4 429.6,1480.4 432.6,1480.3 435.6,1480.3 438.6,1480.2 441.6,1480.1 444.6,1480.1 447.6,1480.0 450.6,1479.9 453.6,1479.8 456.6,1479.8 459.6,1479.7 462.6,1479.6 465.6,1479.5 468.6,1479.4 471.6,1479.3 474.6,1479.2 477.6,1479.1 480.6,1479.0 483.6,1478.9 486.6,1478.8 489.6,1478.6 492.6,1478.4 494.5,1478.3 498.6,1477.8 501.6,1477.2 504.6,1476.2 507.6,1474.3 510.6,1470.8 513.6,1465.4 516.6,1458.9 521.0,1453.2 522.6,1453.9 525.6,1458.4 528.6,1464.3 531.6,1469.0 534.6,1471.8 537.6,1473.0 540.6,1473.4 543.6,1473.5 546.6,1473.3 549.6,1473.0 552.6,1472.7 555.6,1472.2 558.6,1471.7 561.6,1471.0 564.6,1470.2 567.6,1469.2 570.6,1468.0 573.6,1466.4 576.6,1464.4 579.6,1461.6 582.6,1457.7 585.6,1451.8 588.6,1442.0 591.6,1425.9 594.6,1400.2 597.6,1362.0 600.6,1310.6 603.6,1250.2 606.6,1192.6 610.5,1157.0 612.6,1168.0 615.6,1213.8 618.6,1274.4 621.6,1332.0 624.6,1378.1 627.6,1410.8 630.6,1432.1 633.6,1445.1 636.6,1452.9 639.6,1457.7 642.6,1460.9 645.6,1463.2 648.6,1464.9 651.6,1466.2 654.6,1467.3 657.0,1468.0 660.6,1468.7 663.6,1469.2 666.6,1469.5 669.6,1469.8 672.6,1470.0 675.6,1470.1 678.6,1470.2 681.6,1470.2 684.6,1470.3 687.6,1470.2 690.6,1470.2 693.6,1470.1 696.6,1470.0 699.6,1469.9 702.6,1469.8 705.6,1469.7 708.6,1469.5 711.6,1469.3 714.6,1469.1 717.6,1468.9 720.6,1468.7 723.6,1468.5 726.6,1468.2 729.6,1467.9 732.6,1467.7 735.6,1467.3 738.6,1467.0 740.0,1466.8 741.6,1466.7 744.6,1466.4 747.6,1466.1 750.6,1465.7 753.6,1465.2 756.6,1464.6 759.6,1463.6 762.6,1462.2 765.6,1460.1 768.6,1456.9 771.6,1452.3 774.6,1445.8 777.6,1437.3 780.6,1427.2 783.6,1416.2 786.6,1406.1 789.6,1399.8 791.2,1398.8 795.6,1405.5 798.6,1415.3 801.6,1426.3 804.6,1436.5 807.6,1445.1 810.6,1451.7 813.6,1456.4 816.6,1459.6 819.6,1461.8 822.6,1463.2 825.6,1464.1 828.6,1464.7 831.6,1465.2 834.6,1465.6 837.6,1465.9 840.6,1466.1 843.6,1466.3 846.6,1466.5 849.6,1466.7 852.6,1466.8 855.6,1466.9 858.6,1467.0 861.6,1467.1 864.6,1467.2 867.6,1467.2 870.6,1467.3 873.6,1467.3 876.6,1467.4 878.3,1467.4 879.6,1467.4 882.6,1467.4 885.6,1467.4 888.6,1467.4 891.6,1467.3 894.6,1467.3 897.6,1467.3 900.6,1467.2 903.6,1467.2 906.6,1467.2 909.6,1467.1 912.6,1467.1 915.6,1467.1 918.6,1467.0 921.6,1467.0 924.6,1466.9 927.6,1466.9 930.6,1466.9 933.6,1466.8 936.6,1466.8 939.6,1466.7 942.6,1466.7 945.6,1466.6 948.6,1466.5 951.6,1466.5 954.6,1466.4 957.6,1466.3 960.6,1466.2 963.6,1466.1 966.6,1465.7 969.6,1464.9 972.6,1463.3 975.6,1461.3 978.6,1460.3 981.6,1461.2 984.6,1463.1 987.6,1464.5 990.6,1465.2 993.6,1465.5 995.9,1465.5 999.6,1465.5 1002.6,1465.5 1005.6,1465.5 1008.6,1465.4 1011.6,1465.4 1014.6,1465.4 1017.6,1465.3 1020.6,1465.3 1023.6,1465.2 1026.6,1465.2 1029.6,1465.1 1032.6,1465.1 1035.6,1465.1 1038.6,1465.0 1041.6,1465.0 1044.6,1464.9 1047.6,1464.9 1050.6,1464.8 1053.6,1464.8 1056.6,1464.7 1059.6,1464.7 1062.6,1464.6 1065.6,1464.6 1068.6,1464.5 1071.6,1464.5 1074.6,1464.4 1077.6,1464.4 1080.6,1464.3 1083.6,1464.3 1086.6,1464.2 1089.6,1464.2 1092.6,1464.1 1095.6,1464.1 1098.6,1464.0 1101.6,1464.0 1104.6,1463.9 1107.6,1463.9 1110.6,1463.8 1113.6,1463.8 1116.6,1463.7 1119.6,1463.7 1122.6,1463.6 1125.6,1463.6 1128.6,1463.5 1131.6,1463.5 1134.6,1463.4 1137.6,1463.4 1140.6,1463.3 1143.6,1463.3 1146.6,1463.2 1149.6,1463.1 1152.6,1463.1 1155.6,1463.0 1158.6,1463.0 1161.6,1462.9 1164.6,1462.9 1167.6,1462.8 1170.6,1462.8 1173.6,1462.7 1176.6,1462.7 1179.6,1462.6 1182.6,1462.6 1185.6,1462.5 1188.6,1462.4 1191.6,1462.4 1194.6,1462.3 1197.6,1462.3 1200.6,1462.2 1203.6,1462.2 1206.6,1462.1 1209.6,1462.0 1212.6,1462.0 1215.6,1461.9 1218.6,1461.9 1221.6,1461.8 1224.6,1461.8 1227.6,1461.7 1230.6,1461.6 1233.6,1461.6 1236.6,1461.5 1239.6,1461.4 1242.6,1461.4 1245.6,1461.3 1248.6,1461.2 1251.6,1461.2 1254.6,1461.1 1257.6,1461.0 1260.6,1460.8 1263.6,1460.6 1266.6,1460.4 1269.6,1460.1 1272.6,1459.9 1275.6,1459.6 1278.6,1459.4 1281.6,1459.1 1284.6,1458.9 1287.6,1458.6 1290.6,1458.3 1293.6,1458.0 1296.6,1457.7 1299.6,1457.4 1302.6,1457.1 1305.6,1456.8 1308.6,1456.5 1311.6,1456.1 1314.6,1455.7 1317.6,1455.3 1320.0,1455.0 1323.6,1454.7 1326.6,1454.4 1329.6,1454.0 1332.6,1453.5 1335.6,1452.8 1338.6,1451.8 1341.6,1450.4 1344.6,1448.4 1347.6,1445.7 1350.6,1442.1 1353.6,1437.6 1356.6,1432.0 1359.6,1425.8 1362.6,1419.6 1365.6,1414.5 1369.3,1411.9 1371.6,1413.0 1374.6,1417.1 1377.6,1423.0 1380.6,1429.3 1383.6,1435.2 1386.6,1440.3 1389.6,1444.4 1392.6,1447.5 1395.6,1449.9 1398.6,1451.5 1401.6,1452.7 1403.9,1453.4 1407.6,1454.2 1410.6,1454.6 1413.6,1455.0 1416.6,1455.3 1419.6,1455.5 1422.6,1455.7 1425.6,1455.9 1428.6,1456.0 1431.6,1456.1 1434.6,1456.2 1437.6,1456.3 1440.6,1456.4 1443.6,1456.5 1446.6,1456.5 1449.6,1456.6 1452.6,1456.6 1455.6,1456.7 1458.6,1456.7 1461.6,1456.8 1464.6,1456.8 1467.6,1456.8 1470.6,1456.8 1473.6,1456.9 1476.6,1456.9 1479.6,1456.9 1482.6,1456.9 1485.6,1456.8 1488.6,1456.8 1491.6,1456.7 1494.6,1456.7 1497.6,1456.6 1500.6,1456.6 1503.6,1456.6 1506.6,1456.5 1509.6,1456.5 1512.6,1456.4 1515.6,1456.3 1518.6,1456.3 1521.6,1456.2 1524.6,1456.2 1527.6,1456.1 1530.6,1456.1 1533.6,1456.0 1536.6,1456.0 1539.6,1455.9 1542.6,1455.8 1545.6,1455.8 1548.6,1455.7 1551.6,1455.6 1554.6,1455.6 1557.6,1455.5 1560.6,1455.5 1563.6,1455.4 1566.6,1455.3 1569.6,1455.3 1572.6,1455.2 1575.6,1455.1 1578.6,1455.0 1581.6,1455.0 1584.6,1454.9 1587.6,1454.8 1590.6,1454.7 1593.6,1454.7 1596.6,1454.6 1599.6,1454.5 1602.6,1454.4 1605.6,1454.3 1608.6,1454.2 1611.6,1454.1 1614.6,1454.0 1617.6,1453.9 1620.6,1453.8 1623.6,1453.7 1626.6,1453.5 1629.6,1453.4 1632.6,1453.3 1635.6,1453.1 1638.6,1453.0 1641.6,1452.8 1644.6,1452.6 1647.6,1452.4 1650.6,1452.1 1653.6,1451.9 1656.6,1451.5 1658.6,1451.3 1662.6,1450.8 1665.6,1450.3 1668.6,1449.6 1671.6,1448.7 1674.6,1447.4 1677.6,1445.6 1680.6,1443.3 1683.6,1440.2 1686.6,1436.5 1689.6,1432.0 1692.6,1427.0 1695.6,1421.5 1698.6,1416.0 1701.6,1411.1 1704.6,1407.7 1707.7,1406.4 1710.6,1407.6 1713.6,1410.9 1716.6,1415.8 1719.6,1421.3 1722.6,1426.8 1725.6,1432.0 1728.6,1436.5 1731.6,1440.4 1734.6,1443.5 1737.6,1445.9 1740.6,1447.7 1743.6,1449.1 1746.6,1450.1 1748.6,1450.6 1752.6,1451.3 1755.6,1451.7 1758.6,1452.0 1761.6,1452.2 1764.6,1452.4 1767.6,1452.5 1770.6,1452.6 1773.6,1452.6 1776.6,1452.5 1779.6,1452.3 1782.6,1452.0 1785.6,1451.4 1788.6,1450.4 1791.6,1449.1 1794.6,1447.4 1797.6,1445.2 1800.6,1442.7 1803.6,1440.2 1806.6,1437.9 1809.6,1436.4 1811.8,1436.1 1815.6,1437.2 1818.6,1439.3 1821.6,1441.9 1824.6,1444.5 1827.6,1446.9 1830.6,1449.0 1833.6,1450.6 1836.6,1451.8 1838.5,1452.4 1842.6,1453.3 1845.6,1453.7 1848.6,1454.0 1851.6,1454.2 1854.6,1454.3 1857.6,1454.4 1860.6,1454.5 1863.6,1454.6 1866.6,1454.7 1869.6,1454.8 1872.6,1454.8 1875.6,1454.9 1878.6,1454.9 1881.6,1455.0 1884.6,1455.0 1887.6,1455.1 1890.6,1455.1 1893.6,1455.1 1896.6,1455.2 1899.6,1455.2 1902.6,1455.2 1905.6,1455.3 1908.6,1455.3 1911.6,1455.3 1914.6,1455.3 1917.6,1455.4 1920.6,1455.4 1923.6,1455.4 1926.6,1455.4 1929.6,1455.5 1932.6,1455.5 1935.6,1455.5 1938.6,1455.5 1941.6,1455.5 1944.6,1455.6 1947.6,1455.6 1950.6,1455.6 1953.6,1455.6 1956.6,1455.6 1959.6,1455.7 1962.6,1455.7 1965.6,1455.7 1968.6,1455.7 1971.6,1455.7 1974.6,1455.8 1977.6,1455.8 1980.6,1455.8 1983.6,1455.8 1986.6,1455.8 1989.6,1455.8 1992.6,1455.9 1995.6,1455.9 1998.6,1455.9 2001.6,1455.9 2004.6,1455.9 2007.6,1455.9 2010.6,1456.0 2013.6,1456.0 2016.6,1456.0 2019.6,1456.0 2022.6,1456.0 2025.6,1456.0 2028.6,1456.1 2031.6,1456.1 2034.6,1456.1 2037.6,1456.1 2040.6,1456.1 2043.6,1456.1 2046.6,1456.2 2049.6,1456.2 2052.6,1456.2 2055.6,1456.2 2058.6,1456.2 2061.6,1456.2 2064.6,1456.2 2067.6,1456.3 2070.6,1456.3 2073.6,1456.3 2076.6,1456.3 2079.6,1456.3 2082.6,1456.3 2085.6,1456.3 2088.6,1456.4 2091.6,1456.4 2094.6,1456.4 2097.6,1456.4 2100.6,1456.4 2103.6,1456.4 2106.6,1456.5 2109.6,1456.5 2112.6,1456.5 2115.6,1456.5 2116.8,1456.5" stroke="#ff0000" stroke-width="3.4"/>
<path d="M175.8,1294.3 179.8,1294.2 182.8,1294.2 185.8,1294.2 188.8,1294.1 191.8,1294.1 194.8,1294.0 197.8,1294.0 200.8,1294.0 203.8,1293.9 206.8,1293.9 209.8,1293.8 212.8,1293.8 215.8,1293.8 218.8,1293.7 221.8,1293.7 224.8,1293.6 227.8,1293.6 230.8,1293.5 233.8,1293.5 236.8,1293.5 239.8,1293.4 242.8,1293.4 245.8,1293.3 248.8,1293.3 251.8,1293.3 254.8,1293.2 257.8,1293.2 260.8,1293.1 263.8,1293.1 266.8,1293.0 269.8,1293.0 272.8,1293.0 275.8,1292.9 278.8,1292.9 281.8,1292.8 284.8,1292.8 287.8,1292.8 290.8,1292.7 293.8,1292.7 296.8,1292.6 299.8,1292.6 302.8,1292.5 305.8,1292.5 308.8,1292.5 311.8,1292.4 314.8,1292.4 317.8,1292.3 320.8,1292.3 323.8,1292.2 326.8,1292.2 329.8,1292.2 332.8,1292.1 335.8,1292.1 338.8,1292.0 341.8,1292.0 344.8,1291.9 347.8,1291.9 350.8,1291.8 353.8,1291.8 356.8,1291.8 359.8,1291.7 362.8,1291.7 365.8,1291.6 368.8,1291.6 371.8,1291.5 374.8,1291.5 377.8,1291.4 380.8,1291.4 383.8,1291.3 386.8,1291.3 389.8,1291.3 392.8,1291.2 395.8,1291.2 398.8,1291.1 401.8,1291.1 404.8,1291.0 407.8,1291.0 410.8,1290.9 413.8,1290.9 416.8,1290.8 419.8,1290.8 422.8,1290.7 425.8,1290.7 428.8,1290.6 431.8,1290.5 434.8,1290.5 437.8,1290.4 440.8,1290.4 443.8,1290.3 446.8,1290.3 449.8,1290.2 452.8,1290.1 455.8,1290.1 458.8,1290.0 461.8,1289.9 464.8,1289.9 467.8,1289.8 470.8,1289.7 473.8,1289.6 476.8,1289.5 479.8,1289.4 482.8,1289.3 485.8,1289.2 488.8,1289.1 491.8,1288.9 494.8,1288.8 497.8,1288.5 500.8,1288.2 503.8,1287.5 506.8,1286.2 509.8,1283.4 512.8,1278.6 515.8,1272.0 518.8,1265.7 521.5,1263.2 524.8,1266.5 527.8,1272.9 530.8,1279.0 533.8,1283.1 536.8,1285.3 539.8,1286.2 541.2,1286.4 542.8,1286.5 545.8,1286.6 548.8,1286.5 551.8,1286.4 554.8,1286.2 557.8,1286.0 560.8,1285.7 563.8,1285.4 566.8,1285.1 569.8,1284.6 572.8,1284.1 575.8,1283.5 578.8,1282.8 581.8,1281.9 584.8,1280.8 587.8,1279.5 590.8,1277.7 593.8,1275.3 596.8,1271.6 599.8,1265.9 602.8,1256.6 605.8,1241.6 608.8,1218.7 611.8,1186.6 614.8,1146.1 617.8,1102.3 620.8,1066.5 623.5,1053.9 626.8,1072.1 629.8,1110.6 632.8,1154.2 635.8,1193.1 638.8,1223.2 641.8,1244.2 644.8,1257.8 647.8,1266.1 650.8,1271.1 653.8,1274.2 656.8,1276.4 659.8,1277.9 662.8,1279.1 664.0,1279.5 665.8,1280.0 668.8,1280.7 671.8,1281.2 674.8,1281.7 677.8,1282.0 680.8,1282.3 683.8,1282.5 686.8,1282.7 689.8,1282.8 692.8,1282.9 695.8,1283.0 698.8,1283.0 701.8,1283.0 704.8,1283.0 707.8,1283.0 710.8,1282.9 713.8,1282.9 716.8,1282.8 719.8,1282.7 722.8,1282.6 725.8,1282.5 728.8,1282.4 731.8,1282.3 734.8,1282.2 737.8,1282.0 740.0,1281.9 743.8,1281.7 746.8,1281.6 749.8,1281.4 752.8,1281.2 755.8,1281.0 758.8,1280.7 761.8,1280.4 764.8,1280.1 767.8,1279.6 770.8,1279.0 773.8,1278.2 776.8,1277.1 779.8,1275.5 782.8,1273.1 785.8,1269.6 788.8,1264.9 791.8,1258.7 794.8,1251.3 797.8,1243.1 800.8,1235.2 803.8,1229.4 806.4,1227.6 809.8,1230.5 812.8,1236.9 815.8,1244.8 818.8,1252.7 821.8,1259.7 824.8,1265.3 827.8,1269.6 830.8,1272.6 833.8,1274.6 836.8,1276.0 839.8,1276.8 842.8,1277.4 845.8,1277.8 848.8,1278.1 851.8,1278.3 854.0,1278.4 857.8,1278.6 860.8,1278.7 863.8,1278.8 866.8,1278.9 869.8,1279.0 872.8,1279.0 875.8,1279.0 878.8,1279.1 881.8,1279.1 884.8,1279.1 887.8,1279.1 890.8,1279.1 893.8,1279.1 896.8,1279.1 899.8,1279.1 902.8,1279.1 905.8,1279.1 908.8,1279.0 911.8,1279.0 914.8,1279.0 917.8,1279.0 920.8,1278.9 923.8,1278.9 926.8,1278.9 929.8,1278.8 932.8,1278.8 935.8,1278.8 938.8,1278.7 941.8,1278.7 944.8,1278.7 947.8,1278.6 950.8,1278.6 953.8,1278.5 956.8,1278.5 959.8,1278.4 961.3,1278.4 962.8,1278.4 965.8,1278.4 968.8,1278.3 971.8,1278.1 974.8,1277.5 977.8,1276.4 980.8,1275.0 983.8,1274.3 986.8,1275.0 989.8,1276.4 992.8,1277.6 995.8,1278.1 998.8,1278.4 1001.8,1278.4 1004.8,1278.4 1007.8,1278.4 1010.8,1278.4 1013.8,1278.4 1016.8,1278.4 1019.8,1278.4 1022.8,1278.3 1025.8,1278.3 1028.8,1278.3 1031.8,1278.2 1034.8,1278.2 1037.8,1278.2 1040.8,1278.1 1043.8,1278.1 1046.8,1278.1 1049.8,1278.1 1052.8,1278.0 1055.8,1278.0 1058.8,1278.0 1061.8,1277.9 1064.8,1277.9 1067.8,1277.9 1070.8,1277.8 1073.8,1277.8 1076.8,1277.8 1079.8,1277.7 1082.8,1277.7 1085.8,1277.7 1088.8,1277.6 1091.8,1277.6 1094.8,1277.6 1097.8,1277.5 1100.8,1277.5 1103.8,1277.5 1106.8,1277.4 1109.8,1277.4 1112.8,1277.4 1115.8,1277.3 1118.8,1277.3 1121.8,1277.3 1124.8,1277.2 1127.8,1277.2 1130.8,1277.2 1133.8,1277.1 1136.8,1277.1 1139.8,1277.0 1142.8,1277.0 1145.8,1277.0 1148.8,1276.9 1151.8,1276.9 1154.8,1276.9 1157.8,1276.8 1160.8,1276.8 1163.8,1276.8 1166.8,1276.7 1169.8,1276.7 1172.8,1276.7 1175.8,1276.6 1178.8,1276.6 1181.8,1276.5 1184.8,1276.5 1187.8,1276.5 1190.8,1276.4 1193.8,1276.4 1196.8,1276.4 1199.8,1276.3 1202.8,1276.3 1205.8,1276.2 1208.8,1276.2 1211.8,1276.2 1214.8,1276.1 1217.8,1276.1 1220.8,1276.1 1223.8,1276.0 1226.8,1276.0 1229.8,1275.9 1232.8,1275.9 1235.8,1275.9 1238.8,1275.8 1241.8,1275.8 1244.8,1275.7 1247.8,1275.7 1250.8,1275.6 1253.8,1275.6 1256.8,1275.6 1259.8,1275.5 1262.8,1275.5 1265.8,1275.4 1268.8,1275.4 1271.8,1275.3 1274.8,1275.3 1277.8,1275.2 1280.8,1275.2 1283.8,1275.1 1286.8,1275.1 1289.8,1275.0 1292.8,1274.9 1295.8,1274.9 1298.8,1274.8 1301.8,1274.8 1304.8,1274.7 1307.8,1274.6 1310.8,1274.5 1313.8,1274.5 1316.8,1274.4 1319.0,1274.3 1322.8,1272.6 1325.8,1271.3 1328.8,1270.0 1331.0,1269.0 1334.8,1269.1 1337.8,1269.2 1340.8,1269.3 1343.8,1269.3 1346.8,1269.3 1349.8,1269.3 1352.8,1269.1 1355.8,1268.9 1358.0,1268.6 1361.8,1267.6 1364.8,1266.5 1367.8,1264.9 1370.8,1262.8 1373.8,1260.1 1376.8,1256.8 1379.8,1253.0 1382.8,1249.0 1385.8,1245.2 1388.8,1242.4 1391.8,1241.4 1394.8,1242.5 1397.8,1245.5 1400.8,1249.4 1403.8,1253.6 1406.8,1257.5 1409.8,1260.9 1412.8,1263.8 1415.8,1266.0 1418.8,1267.8 1421.8,1269.1 1424.7,1270.0 1427.8,1270.6 1430.8,1271.1 1433.8,1271.4 1436.8,1271.7 1439.8,1271.9 1442.8,1272.0 1445.8,1272.1 1448.8,1272.2 1451.8,1272.3 1454.8,1272.4 1457.8,1272.4 1460.8,1272.5 1463.8,1272.5 1466.8,1272.5 1469.8,1272.6 1472.8,1272.6 1475.8,1272.6 1478.8,1272.6 1480.0,1272.6 1481.8,1272.6 1484.8,1272.6 1487.8,1272.6 1490.8,1272.6 1493.8,1272.5 1496.8,1272.5 1499.8,1272.5 1502.8,1272.5 1505.8,1272.4 1508.8,1272.4 1511.8,1272.4 1514.8,1272.3 1517.8,1272.3 1520.8,1272.3 1523.8,1272.2 1526.8,1272.2 1529.8,1272.2 1532.8,1272.1 1535.8,1272.1 1538.8,1272.1 1541.8,1272.0 1544.8,1272.0 1547.8,1271.9 1550.8,1271.9 1553.8,1271.9 1556.8,1271.8 1559.8,1271.8 1562.8,1271.7 1565.8,1271.7 1568.8,1271.7 1571.8,1271.6 1574.8,1271.6 1577.8,1271.5 1580.8,1271.5 1583.8,1271.4 1586.8,1271.4 1589.8,1271.3 1592.8,1271.3 1595.8,1271.2 1598.8,1271.2 1601.8,1271.1 1604.8,1271.1 1607.8,1271.0 1610.8,1271.0 1613.8,1270.9 1616.8,1270.8 1619.8,1270.8 1622.8,1270.7 1625.8,1270.7 1628.8,1270.6 1631.8,1270.5 1634.8,1270.4 1637.8,1270.4 1640.8,1270.3 1643.8,1270.2 1646.8,1270.1 1649.8,1270.0 1652.8,1269.9 1655.8,1269.8 1658.8,1269.7 1661.8,1269.6 1664.8,1269.5 1667.8,1269.4 1670.8,1269.2 1673.8,1269.0 1676.8,1268.8 1679.8,1268.6 1682.8,1268.4 1685.8,1268.1 1688.8,1267.7 1691.8,1267.3 1694.8,1266.7 1697.8,1265.9 1700.8,1264.9 1703.8,1263.5 1706.8,1261.7 1709.8,1259.4 1712.8,1256.7 1715.8,1253.5 1718.8,1250.0 1721.8,1246.2 1724.8,1242.6 1727.8,1239.3 1730.8,1237.1 1734.0,1236.2 1736.8,1236.9 1739.8,1239.1 1742.8,1242.2 1745.8,1245.9 1748.8,1249.8 1751.8,1253.4 1754.8,1256.7 1757.8,1259.5 1760.8,1261.9 1763.8,1263.8 1766.8,1265.3 1769.8,1266.4 1772.8,1267.3 1775.8,1267.9 1778.8,1268.4 1781.8,1268.7 1784.8,1268.9 1787.8,1269.1 1790.8,1269.2 1793.8,1269.3 1796.8,1269.3 1799.8,1269.3 1802.8,1269.2 1805.8,1269.1 1808.8,1268.8 1811.8,1268.3 1814.8,1267.6 1817.8,1266.6 1820.8,1265.3 1823.8,1263.7 1826.8,1261.8 1829.8,1259.9 1832.8,1258.3 1835.8,1257.2 1837.8,1257.0 1841.8,1257.9 1844.8,1259.4 1847.8,1261.3 1850.8,1263.2 1853.8,1265.0 1856.8,1266.5 1859.8,1267.6 1862.8,1268.5 1865.8,1269.1 1868.8,1269.5 1871.8,1269.8 1874.8,1270.0 1877.8,1270.2 1880.8,1270.3 1883.8,1270.4 1886.8,1270.5 1889.8,1270.5 1892.8,1270.6 1895.8,1270.7 1898.8,1270.7 1901.8,1270.8 1904.8,1270.8 1907.8,1270.9 1910.8,1270.9 1913.8,1270.9 1916.8,1271.0 1919.8,1271.0 1922.8,1271.0 1925.8,1271.1 1928.8,1271.1 1931.8,1271.1 1934.8,1271.2 1937.8,1271.2 1940.8,1271.2 1943.8,1271.3 1946.8,1271.3 1949.8,1271.3 1952.8,1271.4 1955.8,1271.4 1958.8,1271.4 1961.8,1271.4 1964.8,1271.5 1967.8,1271.5 1970.8,1271.5 1973.8,1271.5 1976.8,1271.6 1979.8,1271.6 1982.8,1271.6 1985.8,1271.6 1988.8,1271.7 1991.8,1271.7 1994.8,1271.7 1997.8,1271.7 2000.8,1271.8 2003.8,1271.8 2006.8,1271.8 2009.8,1271.8 2012.8,1271.8 2015.8,1271.9 2018.8,1271.9 2021.8,1271.9 2024.8,1271.9 2027.8,1272.0 2030.8,1272.0 2033.8,1272.0 2036.8,1272.0 2039.8,1272.0 2042.8,1272.1 2045.8,1272.1 2048.8,1272.1 2051.8,1272.1 2054.8,1272.2 2057.8,1272.2 2060.8,1272.2 2063.8,1272.2 2066.8,1272.2 2069.8,1272.3 2072.8,1272.3 2075.8,1272.3 2078.8,1272.3 2081.8,1272.4 2084.8,1272.4 2087.8,1272.4 2090.8,1272.4 2093.8,1272.4 2096.8,1272.5 2099.8,1272.5 2102.8,1272.5 2105.8,1272.5 2108.8,1272.5 2111.8,1272.6 2114.8,1272.6 2116.8,1272.6" stroke="#0000ff" stroke-width="4.1"/>
<path d="M175.8,1374.6 179.8,1374.6 182.8,1374.5 185.8,1374.5 188.8,1374.5 191.8,1374.4 194.8,1374.4 197.8,1374.4 200.8,1374.3 203.8,1374.3 206.8,1374.3 209.8,1374.2 212.8,1374.2 215.8,1374.2 218.8,1374.1 221.8,1374.1 224.8,1374.1 227.8,1374.0 230.8,1374.0 233.8,1374.0 236.8,1374.0 239.8,1373.9 242.8,1373.9 245.8,1373.9 248.8,1373.8 251.8,1373.8 254.8,1373.8 257.8,1373.7 260.8,1373.7 263.8,1373.7 266.8,1373.6 269.8,1373.6 272.8,1373.6 275.8,1373.5 278.8,1373.5 281.8,1373.5 284.8,1373.4 287.8,1373.4 290.8,1373.4 293.8,1373.3 296.8,1373.3 299.8,1373.3 302.8,1373.2 305.8,1373.2 308.8,1373.2 311.8,1373.1 314.8,1373.1 317.8,1373.1 320.8,1373.0 323.8,1373.0 326.8,1373.0 329.8,1372.9 332.8,1372.9 335.8,1372.9 338.8,1372.8 341.8,1372.8 344.8,1372.7 347.8,1372.7 350.8,1372.7 353.8,1372.6 356.8,1372.6 359.8,1372.6 362.8,1372.5 365.8,1372.5 368.8,1372.5 371.8,1372.4 374.8,1372.4 377.8,1372.4 380.8,1372.3 383.8,1372.3 386.8,1372.2 389.8,1372.2 392.8,1372.2 395.8,1372.1 398.8,1372.1 401.8,1372.0 404.8,1372.0 407.8,1372.0 410.8,1371.9 413.8,1371.9 416.8,1371.8 419.8,1371.8 422.8,1371.8 425.8,1371.7 428.8,1371.7 431.8,1371.6 434.8,1371.6 437.8,1371.5 440.8,1371.5 443.8,1371.4 446.8,1371.4 449.8,1371.3 452.8,1371.3 455.8,1371.2 458.8,1371.2 461.8,1371.1 464.8,1371.0 467.8,1371.0 470.8,1370.9 473.8,1370.8 476.8,1370.8 479.8,1370.7 482.8,1370.6 485.8,1370.5 488.8,1370.3 491.8,1370.2 494.8,1370.0 497.8,1369.8 500.8,1369.5 503.8,1368.8 506.8,1367.3 509.8,1364.4 512.8,1359.6 515.8,1353.0 518.8,1346.7 521.5,1344.1 524.8,1347.2 527.8,1353.4 530.8,1359.2 533.8,1363.2 536.8,1365.2 539.4,1365.9 542.8,1366.2 545.8,1366.2 548.8,1366.1 551.8,1366.0 554.8,1365.8 557.8,1365.5 560.8,1365.2 563.8,1364.8 566.8,1364.3 569.8,1363.8 572.8,1363.2 575.8,1362.4 578.8,1361.5 581.0,1360.7 584.8,1359.0 587.8,1357.2 590.8,1354.7 593.8,1350.7 596.8,1344.2 599.8,1333.7 602.8,1316.9 605.8,1292.1 608.8,1258.8 611.8,1219.1 614.8,1180.2 619.2,1151.6 620.8,1155.8 623.8,1182.6 626.8,1221.9 629.8,1261.3 632.8,1294.1 635.8,1318.3 638.8,1334.6 641.8,1344.9 644.8,1351.1 647.8,1355.0 650.8,1357.5 653.8,1359.3 656.8,1360.6 659.8,1361.5 662.8,1362.2 665.8,1362.8 668.8,1363.2 671.8,1363.5 674.8,1363.8 677.8,1364.0 680.8,1364.1 683.8,1364.2 686.8,1364.3 689.8,1364.3 692.8,1364.3 695.8,1364.3 698.8,1364.3 701.8,1364.2 704.8,1364.2 707.8,1364.1 710.8,1364.0 713.8,1363.9 716.8,1363.8 719.8,1363.7 722.8,1363.5 725.8,1363.4 728.8,1363.2 731.8,1363.0 734.8,1362.9 737.8,1362.7 740.0,1362.5 743.8,1362.3 746.8,1362.2 749.8,1362.0 752.8,1361.8 755.8,1361.6 758.8,1361.3 761.8,1360.9 764.8,1360.4 767.8,1359.8 770.8,1358.8 773.8,1357.5 776.8,1355.5 779.8,1352.6 782.8,1348.5 785.8,1343.0 788.8,1336.2 791.8,1328.5 794.8,1320.6 797.8,1314.0 801.5,1310.6 803.8,1311.9 806.8,1317.1 809.8,1324.5 812.8,1332.4 815.8,1339.6 818.8,1345.6 821.8,1350.3 824.8,1353.6 827.8,1355.9 830.8,1357.5 833.8,1358.5 836.8,1359.2 839.8,1359.7 842.8,1360.0 845.8,1360.3 848.8,1360.5 851.8,1360.6 854.0,1360.7 857.8,1360.8 860.8,1360.9 863.8,1361.0 866.8,1361.1 869.8,1361.1 872.8,1361.1 875.8,1361.2 878.8,1361.2 881.8,1361.2 884.8,1361.2 887.8,1361.2 890.8,1361.2 893.8,1361.2 896.8,1361.2 899.8,1361.2 902.8,1361.2 905.8,1361.2 908.8,1361.2 911.8,1361.1 914.8,1361.1 917.8,1361.1 920.8,1361.1 923.8,1361.0 926.8,1361.0 929.8,1361.0 932.8,1361.0 935.8,1360.9 938.8,1360.9 941.8,1360.9 944.8,1360.8 947.8,1360.8 950.8,1360.8 953.8,1360.7 956.8,1360.7 959.8,1360.6 962.8,1360.5 965.8,1360.4 968.8,1360.2 971.8,1359.8 974.8,1358.9 977.8,1357.2 980.8,1355.0 983.8,1353.8 986.8,1354.9 989.8,1357.0 992.8,1358.6 995.8,1359.5 997.6,1359.7 1001.8,1359.9 1004.8,1359.9 1007.8,1359.9 1010.8,1359.9 1013.8,1359.9 1016.8,1359.8 1019.8,1359.8 1022.8,1359.8 1025.8,1359.7 1028.8,1359.7 1031.8,1359.7 1034.8,1359.6 1037.8,1359.6 1040.8,1359.6 1043.8,1359.5 1046.8,1359.5 1049.8,1359.4 1052.8,1359.4 1055.8,1359.4 1058.8,1359.3 1061.8,1359.3 1064.8,1359.3 1067.8,1359.2 1070.8,1359.2 1073.8,1359.1 1076.8,1359.1 1079.8,1359.1 1082.8,1359.0 1085.8,1359.0 1088.8,1358.9 1091.8,1358.9 1094.8,1358.9 1097.8,1358.8 1100.8,1358.8 1103.8,1358.7 1106.8,1358.7 1109.8,1358.7 1112.8,1358.6 1115.8,1358.6 1118.8,1358.5 1121.8,1358.5 1124.8,1358.4 1127.8,1358.4 1130.8,1358.4 1133.8,1358.3 1136.8,1358.3 1139.8,1358.2 1142.8,1358.2 1145.8,1358.2 1148.8,1358.1 1151.8,1358.1 1154.8,1358.0 1157.8,1358.0 1160.8,1357.9 1163.8,1357.9 1166.8,1357.9 1169.8,1357.8 1172.8,1357.8 1175.8,1357.7 1178.8,1357.7 1181.8,1357.6 1184.8,1357.6 1187.8,1357.6 1190.8,1357.5 1193.8,1357.5 1196.8,1357.4 1199.8,1357.4 1202.8,1357.3 1205.8,1357.3 1208.8,1357.2 1211.8,1357.2 1214.8,1357.2 1217.8,1357.1 1220.8,1357.1 1223.8,1357.0 1226.8,1357.0 1229.8,1356.9 1232.8,1356.9 1235.8,1356.8 1238.8,1356.8 1241.8,1356.7 1244.8,1356.7 1247.8,1356.6 1250.8,1356.6 1253.8,1356.5 1256.8,1356.5 1259.8,1356.4 1262.8,1356.4 1265.8,1356.3 1268.8,1356.3 1271.8,1356.2 1274.8,1356.1 1277.8,1356.1 1280.8,1356.0 1283.8,1356.0 1286.8,1355.9 1289.8,1355.8 1292.8,1355.8 1295.8,1355.7 1298.8,1355.6 1301.8,1355.5 1304.8,1355.4 1307.8,1355.4 1310.8,1355.3 1313.8,1355.2 1316.8,1355.0 1318.0,1355.0 1319.8,1353.9 1322.8,1352.1 1325.8,1350.3 1327.0,1349.6 1328.8,1349.7 1331.8,1350.0 1334.8,1350.2 1337.8,1350.3 1340.8,1350.4 1343.8,1350.5 1346.8,1350.4 1349.8,1350.3 1352.8,1349.9 1355.0,1349.4 1358.8,1347.7 1361.8,1345.8 1364.8,1343.4 1367.8,1340.5 1370.8,1337.0 1373.8,1333.2 1376.8,1329.4 1379.8,1326.2 1383.9,1324.4 1385.8,1324.8 1388.8,1327.0 1391.8,1330.4 1394.8,1334.3 1397.8,1338.0 1400.8,1341.4 1403.8,1344.2 1406.8,1346.5 1409.8,1348.3 1412.8,1349.6 1415.8,1350.5 1417.8,1351.0 1421.8,1351.7 1424.8,1352.0 1427.8,1352.2 1430.8,1352.4 1433.8,1352.6 1436.8,1352.7 1439.8,1352.8 1442.8,1352.8 1445.8,1352.9 1448.8,1352.9 1451.8,1353.0 1454.8,1353.0 1457.8,1353.0 1460.8,1353.0 1463.8,1353.0 1466.8,1353.0 1469.8,1353.0 1472.8,1353.0 1475.8,1353.0 1478.8,1353.0 1480.0,1353.0 1481.8,1353.0 1484.8,1353.0 1487.8,1353.0 1490.8,1353.0 1493.8,1353.0 1496.8,1353.0 1499.8,1353.0 1502.8,1353.0 1505.8,1352.9 1508.8,1352.9 1511.8,1352.9 1514.8,1352.9 1517.8,1352.9 1520.8,1352.9 1523.8,1352.9 1526.8,1352.8 1529.8,1352.8 1532.8,1352.8 1535.8,1352.8 1538.8,1352.8 1541.8,1352.7 1544.8,1352.7 1547.8,1352.7 1550.8,1352.7 1553.8,1352.6 1556.8,1352.6 1559.8,1352.6 1562.8,1352.6 1565.8,1352.5 1568.8,1352.5 1571.8,1352.5 1574.8,1352.5 1577.8,1352.4 1580.8,1352.4 1583.8,1352.4 1586.8,1352.3 1589.8,1352.3 1592.8,1352.3 1595.8,1352.2 1598.8,1352.2 1601.8,1352.2 1604.8,1352.1 1607.8,1352.1 1610.8,1352.1 1613.8,1352.0 1616.8,1352.0 1619.8,1351.9 1622.8,1351.9 1625.8,1351.8 1628.8,1351.8 1631.8,1351.7 1634.8,1351.7 1637.8,1351.6 1640.8,1351.6 1643.8,1351.5 1646.8,1351.4 1649.8,1351.3 1652.8,1351.2 1655.8,1351.1 1658.8,1351.0 1661.8,1350.9 1664.8,1350.8 1667.8,1350.6 1670.8,1350.5 1673.8,1350.2 1676.8,1350.0 1679.4,1349.7 1682.8,1349.3 1685.8,1348.8 1688.8,1348.1 1691.8,1347.2 1694.8,1345.9 1697.8,1344.4 1700.8,1342.4 1703.8,1340.0 1706.8,1337.2 1709.8,1334.1 1712.8,1330.8 1715.8,1327.6 1718.8,1324.8 1721.8,1322.8 1725.0,1322.0 1727.8,1322.6 1730.8,1324.5 1733.8,1327.3 1736.8,1330.6 1739.8,1333.9 1742.8,1337.1 1745.8,1340.0 1748.8,1342.5 1751.8,1344.6 1754.8,1346.2 1757.8,1347.5 1760.8,1348.5 1763.8,1349.3 1765.8,1349.7 1769.8,1350.3 1772.8,1350.6 1775.8,1350.8 1778.8,1351.0 1781.8,1351.2 1784.8,1351.3 1787.8,1351.3 1790.8,1351.4 1793.8,1351.3 1796.8,1351.2 1799.8,1351.0 1802.8,1350.7 1805.8,1350.1 1808.8,1349.3 1811.8,1348.2 1814.8,1346.7 1817.8,1345.1 1820.8,1343.3 1823.8,1341.6 1826.8,1340.4 1829.8,1340.0 1832.8,1340.5 1835.8,1341.8 1838.8,1343.6 1841.8,1345.5 1844.8,1347.2 1847.8,1348.8 1850.8,1350.0 1853.8,1350.9 1856.8,1351.6 1859.2,1352.0 1862.8,1352.4 1865.8,1352.6 1868.8,1352.7 1871.8,1352.8 1874.8,1352.9 1877.8,1352.9 1880.8,1353.0 1883.8,1353.0 1886.8,1353.0 1889.8,1353.1 1892.8,1353.1 1895.8,1353.1 1898.8,1353.1 1901.8,1353.1 1904.8,1353.1 1907.8,1353.1 1910.8,1353.1 1913.8,1353.2 1916.8,1353.2 1919.8,1353.2 1922.8,1353.2 1925.8,1353.2 1928.8,1353.2 1931.8,1353.2 1934.8,1353.2 1937.8,1353.2 1940.8,1353.2 1943.8,1353.2 1946.8,1353.2 1949.8,1353.2 1952.8,1353.2 1955.8,1353.2 1958.8,1353.2 1961.8,1353.1 1964.8,1353.1 1967.8,1353.1 1970.8,1353.1 1973.8,1353.1 1976.8,1353.1 1979.8,1353.1 1982.8,1353.1 1985.8,1353.1 1988.8,1353.1 1991.8,1353.1 1994.8,1353.1 1997.8,1353.1 2000.8,1353.1 2003.8,1353.1 2006.8,1353.1 2009.8,1353.1 2012.8,1353.1 2015.8,1353.1 2018.8,1353.0 2021.8,1353.0 2024.8,1353.0 2027.8,1353.0 2030.8,1353.0 2033.8,1353.0 2036.8,1353.0 2039.8,1353.0 2042.8,1353.0 2045.8,1353.0 2048.8,1353.0 2051.8,1353.0 2054.8,1353.0 2057.8,1353.0 2060.8,1352.9 2063.8,1352.9 2066.8,1352.9 2069.8,1352.9 2072.8,1352.9 2075.8,1352.9 2078.8,1352.9 2081.8,1352.9 2084.8,1352.9 2087.8,1352.9 2090.8,1352.9 2093.8,1352.9 2096.8,1352.9 2099.8,1352.8 2102.8,1352.8 2105.8,1352.8 2108.8,1352.8 2111.8,1352.8 2114.8,1352.8 2116.8,1352.8" stroke="#00ff00" stroke-width="3.6"/>
<path d="M175.8,257.6 177.9,257.5 180.9,257.3 183.9,257.2 186.9,257.0 189.9,256.8 192.9,256.7 195.9,256.5 198.9,256.3 201.9,256.2 204.9,256.0 207.9,255.9 210.9,255.7 213.9,255.5 216.9,255.4 219.9,255.2 222.9,255.0 225.9,254.9 228.9,254.7 231.9,254.5 234.9,254.4 237.9,254.2 240.9,254.0 243.9,253.9 246.9,253.7 249.9,253.5 252.9,253.4 255.9,253.2 258.9,253.1 261.9,252.9 264.9,252.7 267.9,252.6 270.9,252.4 273.9,252.2 276.9,252.1 279.9,251.9 282.9,251.7 285.9,251.6 288.9,251.4 291.9,251.2 294.9,251.1 297.9,250.9 300.9,250.7 303.9,250.6 306.9,250.4 309.9,250.2 312.9,250.1 315.9,249.9 318.9,249.7 321.9,249.6 324.9,249.4 327.9,249.2 330.9,249.1 333.9,248.9 336.9,248.7 339.9,248.6 342.9,248.4 345.9,248.2 348.9,248.1 351.9,247.9 354.9,247.7 357.9,247.6 360.9,247.4 363.9,247.2 366.9,247.1 369.9,246.9 372.9,246.7 375.9,246.6 378.9,246.4 381.9,246.2 384.9,246.0 387.9,245.9 390.9,245.7 393.9,245.5 396.9,245.4 399.9,245.2 402.9,245.0 405.9,244.9 408.9,244.7 411.9,244.5 414.9,244.3 417.9,244.2 420.9,244.0 423.9,243.8 426.9,243.6 429.9,243.5 432.9,243.3 435.9,243.1 438.9,242.9 441.9,242.8 444.9,242.6 447.9,242.4 450.9,242.2 453.9,242.0 456.9,241.9 459.9,241.7 462.9,241.5 465.9,241.3 468.9,241.1 471.9,240.9 474.9,240.7 477.9,240.5 480.0,240.4 483.9,239.8 486.9,239.3 489.9,238.9 492.9,238.4 495.9,238.0 498.9,237.5 500.7,237.2 504.9,233.6 507.9,230.9 510.9,228.3 513.9,225.7 516.3,223.6 519.9,222.5 522.9,221.6 525.9,220.6 528.9,219.3 531.9,217.3 534.9,215.5 537.9,214.5 540.9,216.2 543.9,218.6 545.7,219.6 549.9,222.8 552.6,224.5 555.9,224.7 558.9,224.8 561.9,224.7 564.9,224.6 566.4,224.5 567.9,223.9 570.9,222.4 573.9,220.7 576.9,218.6 579.9,215.7 582.9,211.7 585.9,205.5 588.9,196.3 591.9,182.7 594.9,163.8 597.9,139.7 600.9,112.5 603.9,88.2 607.2,76.3 609.9,83.7 612.9,105.4 615.9,131.8 618.9,155.9 621.9,175.0 624.9,188.7 627.9,197.8 630.9,203.5 633.9,207.0 636.9,209.1 639.9,210.4 642.9,211.2 645.9,211.6 648.9,211.9 651.9,212.0 654.9,211.9 657.9,211.4 660.9,210.6 663.9,209.4 666.9,208.0 669.9,206.3 672.9,204.5 675.9,202.8 678.9,201.3 681.9,200.3 684.7,200.0 687.9,200.5 690.9,201.6 693.9,203.2 696.9,205.1 699.9,207.0 702.9,208.8 705.9,210.4 708.9,211.7 711.9,212.7 714.9,213.5 717.9,214.0 720.9,214.3 723.9,214.5 726.9,214.5 729.9,214.5 732.9,214.5 735.9,214.4 738.9,214.3 741.9,214.0 744.9,213.7 747.9,213.2 750.9,212.6 753.9,211.6 756.9,210.3 759.9,208.4 762.9,205.9 765.9,202.5 768.9,198.3 771.9,193.1 774.9,187.1 777.9,180.8 780.9,175.0 783.9,170.8 786.7,169.4 789.9,171.3 792.9,176.0 795.9,182.1 798.9,188.5 801.9,194.4 804.9,199.6 807.9,203.9 810.9,207.3 813.9,209.9 816.9,211.8 819.9,213.2 822.9,214.2 825.9,215.0 828.9,215.6 831.9,216.0 834.9,216.4 837.9,216.8 840.3,217.0 843.9,217.1 846.9,217.1 849.9,217.2 852.9,217.2 855.9,217.1 858.9,217.1 861.9,217.1 864.9,217.0 867.9,217.0 870.9,216.9 873.9,216.8 876.9,216.8 879.9,216.7 882.9,216.6 885.9,216.5 888.9,216.4 891.9,216.3 894.9,216.2 897.9,216.1 900.9,216.0 903.9,215.9 906.9,215.8 909.9,215.7 912.9,215.5 915.9,215.4 918.9,215.3 921.9,215.2 924.9,215.1 927.9,215.0 930.9,214.8 933.9,214.7 936.9,214.6 939.9,214.5 942.9,214.4 945.9,214.2 948.9,214.1 951.9,214.0 954.9,213.9 957.9,213.7 960.9,213.6 963.9,213.5 966.9,213.3 969.9,213.2 972.9,213.1 975.9,213.0 978.9,212.8 981.9,212.7 984.9,212.6 987.9,212.5 990.9,212.5 993.9,212.4 996.9,212.3 999.9,212.2 1002.9,212.2 1005.9,212.1 1008.9,212.0 1011.9,211.9 1014.9,211.8 1017.9,211.8 1020.9,211.7 1023.9,211.6 1026.9,211.5 1029.9,211.4 1032.9,211.4 1035.9,211.3 1038.9,211.2 1041.9,211.1 1044.9,211.0 1047.9,211.0 1050.9,210.9 1053.9,210.8 1056.9,210.7 1059.9,210.6 1062.9,210.6 1065.9,210.5 1068.9,210.4 1071.9,210.3 1074.9,210.2 1077.9,210.2 1080.9,210.1 1083.9,210.0 1086.9,209.9 1089.9,209.8 1092.9,209.7 1095.9,209.7 1098.9,209.6 1101.9,209.5 1104.9,209.4 1107.9,209.3 1110.9,209.2 1113.9,209.2 1116.9,209.1 1119.9,209.0 1122.9,208.9 1125.9,208.8 1128.9,208.7 1131.9,208.7 1134.9,208.6 1137.9,208.5 1140.9,208.4 1143.9,208.3 1146.9,208.2 1149.9,208.1 1152.9,208.1 1155.0,208.0 1158.9,207.9 1161.9,207.8 1164.9,207.7 1167.9,207.7 1170.9,207.6 1173.9,207.5 1176.9,207.4 1179.9,207.3 1182.9,207.2 1185.9,207.2 1188.9,207.1 1191.9,207.0 1194.9,206.9 1197.9,206.8 1200.9,206.7 1203.9,206.6 1206.9,206.6 1209.9,206.5 1212.9,206.4 1215.9,206.3 1218.9,206.2 1221.9,206.1 1224.9,206.0 1227.9,205.9 1230.9,205.8 1233.9,205.7 1236.9,205.7 1239.9,205.6 1242.9,205.5 1245.9,205.4 1248.9,205.3 1251.9,205.2 1254.9,205.0 1257.9,204.9 1260.9,204.8 1263.9,204.7 1266.9,204.6 1269.9,204.5 1272.9,204.3 1275.9,204.2 1278.9,204.1 1281.9,203.9 1284.9,203.8 1287.9,203.6 1290.9,203.5 1293.9,203.3 1296.9,203.1 1299.9,202.9 1302.9,202.6 1305.9,202.4 1308.9,202.1 1311.9,201.7 1314.9,201.3 1317.9,200.9 1320.9,200.4 1323.9,199.7 1326.9,198.9 1329.9,197.8 1332.9,196.3 1335.9,194.4 1338.9,191.8 1341.9,188.4 1344.9,184.1 1347.9,178.9 1350.9,172.8 1353.9,166.2 1356.9,159.8 1359.9,154.8 1363.5,152.2 1365.9,153.2 1368.9,157.1 1371.9,162.9 1374.9,169.3 1377.9,175.4 1380.9,180.8 1383.9,185.2 1386.9,188.7 1389.9,191.4 1392.9,193.3 1395.9,194.7 1398.9,195.7 1401.9,196.4 1404.9,196.9 1407.9,197.2 1410.9,197.5 1413.9,197.6 1416.9,197.8 1419.9,197.9 1422.9,198.1 1425.9,198.3 1428.9,198.4 1431.9,198.6 1434.9,198.7 1437.9,198.8 1440.9,198.9 1443.9,198.9 1446.9,199.0 1449.9,199.1 1452.9,199.1 1455.9,199.2 1458.9,199.2 1461.9,199.3 1464.9,199.3 1467.9,199.4 1470.9,199.4 1473.9,199.4 1476.9,199.5 1479.9,199.5 1482.9,199.5 1485.9,199.5 1488.9,199.4 1491.9,199.4 1494.9,199.4 1497.9,199.4 1500.9,199.3 1503.9,199.3 1506.9,199.3 1509.9,199.2 1512.9,199.2 1515.9,199.2 1518.9,199.1 1521.9,199.1 1524.9,199.1 1527.9,199.0 1530.9,199.0 1533.9,198.9 1536.9,198.9 1539.9,198.9 1542.9,198.8 1545.9,198.8 1548.9,198.7 1551.9,198.7 1554.9,198.6 1557.9,198.6 1560.9,198.5 1563.9,198.5 1566.9,198.4 1569.9,198.4 1572.9,198.3 1575.9,198.3 1578.9,198.2 1581.9,198.2 1584.9,198.1 1587.9,198.0 1590.9,198.0 1593.9,197.9 1596.9,197.8 1599.9,197.8 1602.9,197.7 1605.9,197.6 1608.9,197.5 1611.9,197.5 1614.9,197.4 1617.9,197.3 1620.9,197.2 1623.9,197.1 1626.9,196.9 1629.9,196.8 1632.9,196.7 1635.9,196.5 1638.0,196.4 1641.9,196.2 1644.9,195.9 1647.9,195.7 1650.9,195.4 1653.9,195.0 1656.9,194.6 1659.9,194.0 1662.9,193.2 1665.9,192.2 1668.9,190.8 1671.9,189.1 1674.9,186.8 1677.9,184.1 1680.9,180.8 1683.9,176.9 1686.9,172.6 1689.9,168.1 1692.9,163.7 1695.9,159.9 1698.9,157.3 1701.9,156.3 1704.9,157.2 1707.9,159.8 1710.9,163.5 1713.9,167.8 1716.9,172.2 1719.9,176.4 1722.9,180.1 1725.9,183.4 1728.9,186.0 1731.9,188.2 1734.9,189.8 1737.9,191.1 1740.9,192.0 1743.9,192.7 1746.9,193.2 1749.9,193.5 1752.0,193.7 1755.9,194.2 1758.9,194.6 1761.9,194.9 1764.9,195.1 1767.9,195.3 1770.9,195.5 1773.9,195.5 1776.9,195.5 1779.9,195.3 1782.9,194.9 1785.9,194.3 1788.9,193.4 1791.9,192.4 1794.9,191.3 1797.9,190.3 1800.9,189.6 1803.9,189.5 1806.9,190.0 1809.9,191.1 1812.9,192.6 1815.9,194.1 1818.9,195.5 1821.9,196.7 1824.9,197.8 1827.9,198.6 1830.9,199.2 1833.9,199.7 1836.9,200.1 1839.9,200.3 1842.9,200.5 1845.9,200.7 1848.9,200.9 1851.9,201.0 1854.9,201.2 1857.9,201.3 1860.9,201.4 1863.9,201.5 1866.9,201.7 1869.9,201.8 1872.9,201.9 1875.9,202.0 1878.9,202.1 1881.9,202.2 1884.9,202.3 1887.9,202.4 1890.9,202.6 1893.9,202.7 1896.9,202.8 1899.9,202.9 1902.9,203.0 1905.9,203.1 1908.9,203.2 1911.9,203.3 1914.9,203.4 1917.9,203.5 1920.9,203.6 1923.9,203.7 1926.9,203.8 1929.9,203.9 1932.9,204.0 1935.9,204.1 1938.9,204.2 1941.9,204.3 1944.9,204.4 1947.9,204.5 1950.9,204.6 1953.9,204.7 1956.9,204.8 1959.9,204.9 1962.9,205.0 1965.9,205.1 1968.9,205.2 1971.9,205.3 1974.9,205.4 1977.9,205.5 1980.9,205.6 1983.9,205.7 1986.9,205.8 1989.9,205.9 1992.9,205.9 1995.9,206.0 1998.9,206.1 2001.9,206.2 2004.9,206.3 2007.9,206.4 2010.9,206.5 2013.9,206.6 2016.9,206.7 2019.9,206.8 2022.9,206.9 2025.9,207.0 2028.9,207.1 2031.9,207.2 2034.9,207.3 2037.9,207.4 2040.9,207.5 2043.9,207.6 2046.9,207.7 2049.9,207.8 2052.9,207.9 2055.9,208.0 2058.9,208.1 2061.9,208.2 2064.9,208.3 2067.9,208.3 2070.9,208.4 2073.9,208.5 2076.9,208.6 2079.9,208.7 2082.9,208.8 2085.9,208.9 2088.9,209.0 2091.9,209.1 2094.9,209.2 2097.9,209.3 2100.9,209.4 2103.9,209.5 2106.9,209.6 2109.9,209.7 2112.9,209.8 2115.9,209.9 2117.2,209.9" stroke="#a000ff" stroke-width="4.0"/>
</g>
<g fill="#000">
<path d="M447.8,1528 V1515.3 Q447.8,1512.3 450.8,1512.3 H457.0 Q460.0,1512.3 460.0,1515.3 V1528 Z"/>
<path d="M794.4,1528 V1500.9 Q794.4,1497.9 797.4,1497.9 H803.6 Q806.6,1497.9 806.6,1500.9 V1528 Z"/>
<path d="M1141.6,1528 V1515.3 Q1141.6,1512.3 1144.6,1512.3 H1150.8 Q1153.8,1512.3 1153.8,1515.3 V1528 Z"/>
<path d="M1488.3,1528 V1500.9 Q1488.3,1497.9 1491.3,1497.9 H1497.5 Q1500.5,1497.9 1500.5,1500.9 V1528 Z"/>
<path d="M1835.7,1528 V1515.3 Q1835.7,1512.3 1838.7,1512.3 H1842.5 Q1845.5,1512.3 1845.5,1515.3 V1528 Z"/>
</g>
<g fill="#ff0000">
<path d="M577.3,544.3 L580.1,548.3 L588.1,585.7 H580.9 V600.0 L577.3,602.8 L573.7,600.0 V585.7 H566.5 L574.5,548.3 Z"/>
<path d="M650.0,530.2 L652.8,534.2 L661.1,570.9 H653.6 V587.2 L650.0,590.1 L646.4,587.2 V570.9 H638.9 L647.2,534.2 Z"/>
<path d="M724.1,522.6 L726.9,526.6 L736.0,561.2 H726.6 V577.9 L724.1,578.0 L721.6,577.9 V561.2 H712.2 L721.3,526.6 Z"/>
</g>
<g fill="#000000">
<path d="M519.3,1473.2 H523.5 L531.0,1509.6 H522.5 L521.3,1512.0 H520.1 L520.1,1509.6 H511.6 Z"/>
<path d="M976.0,1459.0 H980.2 L987.6,1494.9 H979.2 L978.0,1497.7 H976.8 L976.8,1494.9 H968.4 Z"/>
<path d="M1329.2,1461.1 H1333.4 L1340.8,1497.7 H1332.4 L1331.2,1499.8 H1330.0 L1330.0,1497.7 H1321.6 Z"/>
</g>

<g>
<text transform="translate(186.51,199.60) scale(0.8958,0.8800)" font-size="100">P<tspan font-size="93">(</tspan>GPa<tspan font-size="93">)</tspan></text>
<text transform="translate(192.28,426.40) scale(0.7542,0.7485)" font-size="100">34.1</text>
<text transform="translate(194.40,545.58) scale(0.7494,0.7582)" font-size="100">29.8</text>
<text transform="translate(200.79,802.08) scale(0.7515,0.7612)" font-size="100">20.9</text>
<text transform="translate(195.79,953.54) scale(0.7509,0.7642)" font-size="100">17.2</text>
<text transform="translate(195.69,1052.30) scale(0.7638,0.7515)" font-size="100">14.0</text>
<text transform="translate(198.01,1175.33) scale(0.7739,0.7746)" font-size="100">11.2</text>
<text transform="translate(212.41,1286.37) scale(0.7291,0.7632)" font-size="100">8.1</text>
<text transform="translate(201.21,1395.85) scale(0.7483,0.7746)" font-size="100">5.6</text>
<text transform="translate(194.27,1476.55) scale(0.7581,0.7746)" font-size="100">0.9</text>
<text transform="translate(416.57,1476.43) scale(0.8320,0.8328)" font-size="100">W</text>
<text transform="translate(837.31,125.70) scale(0.7451,0.7550)" font-size="100" style="fill:#0000ff">NiCoCrFe-3Pd</text>
<text transform="translate(1798.34,170.30) scale(0.7399,0.7200)" font-size="100">quenched</text>
<text transform="translate(756.41,1628.81) scale(0.8989,0.8941)" font-size="100">10</text>
<text transform="translate(1449.85,1629.69) scale(0.8943,0.9075)" font-size="100">15</text>
<text transform="translate(121.60,1130.47) scale(1.2400,1.2249) rotate(-90)" font-size="100">Intensity <tspan font-size="95">(</tspan>a.u.<tspan font-size="95">)</tspan></text>
<text transform="translate(993.80,1700.84) scale(1.1992,1.2561)" font-size="100">2Θ</text>
<text transform="translate(1177.46,1698.71) scale(1.2483,1.1734)" font-size="100"><tspan font-weight="normal" stroke="#000" stroke-width="3.4" stroke-linejoin="round">(</tspan></text>
<text transform="translate(1218.87,1641.83) scale(0.7773,0.6840)" font-size="100"><tspan font-weight="normal" stroke="#000" stroke-width="2.2" stroke-linejoin="round">o</tspan></text>
<text transform="translate(1256.76,1698.71) scale(1.2207,1.1734)" font-size="100"><tspan font-weight="normal" stroke="#000" stroke-width="3.4" stroke-linejoin="round">)</tspan></text>
</g>
</svg>
</body></html>
